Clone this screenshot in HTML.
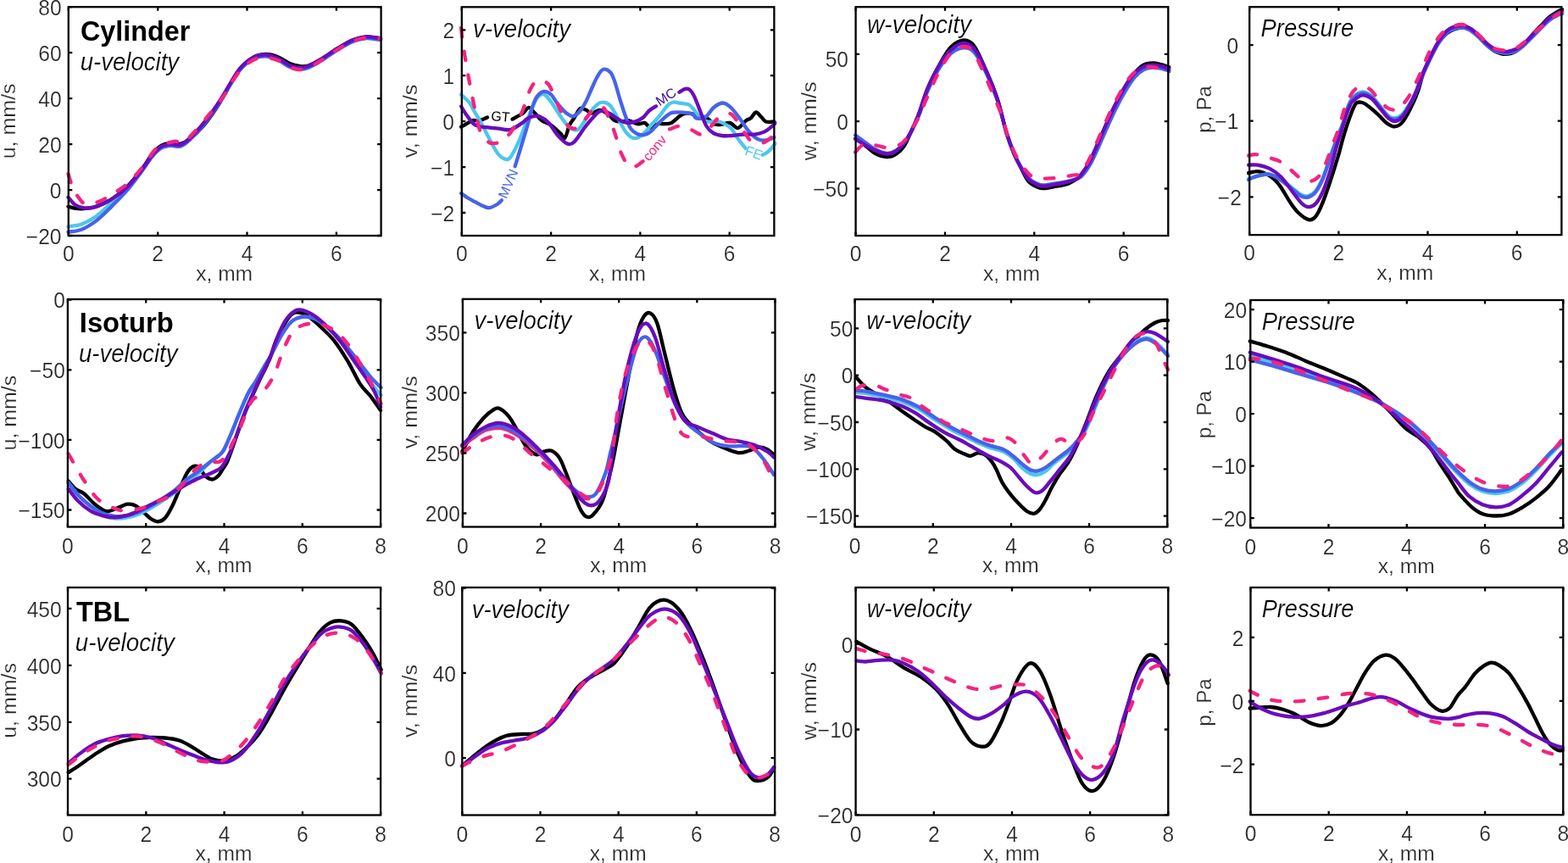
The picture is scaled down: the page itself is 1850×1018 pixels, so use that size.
<!DOCTYPE html><html><head><meta charset="utf-8"><style>html,body{margin:0;padding:0;background:#fff;}svg{display:block;}text{font-family:"Liberation Sans",Arial,sans-serif;}.t{stroke:#fff;stroke-width:0.22;}</style></head><body>
<svg width="1850" height="1018" viewBox="0 0 1850 1018">
<rect width="1850" height="1018" fill="#fff"/>
<clipPath id="c00"><rect x="77.8" y="5.2" width="374.8" height="275.8"/></clipPath>
<g clip-path="url(#c00)" fill="none" stroke-linecap="round" stroke-linejoin="round">
<path d="M80.5 243.6C81.8 243.9 85.4 245.1 88.0 245.5C90.6 245.9 93.2 246.3 96.0 246.3C98.8 246.3 102.0 246.0 105.0 245.5C108.0 245.0 109.7 245.0 114.3 243.2C118.9 241.4 126.4 238.4 132.5 234.5C138.6 230.6 144.6 225.7 150.7 219.5C156.8 213.3 164.0 203.8 168.8 197.5C173.6 191.2 176.1 185.8 179.7 181.5C183.3 177.2 187.0 173.6 190.6 171.5C194.2 169.4 197.9 169.1 201.5 168.8C205.1 168.5 208.8 170.5 212.4 169.8C216.0 169.1 218.5 168.4 223.3 164.5C228.2 160.6 235.4 153.8 241.5 146.5C247.6 139.2 254.5 128.8 259.7 120.5C264.9 112.2 268.9 103.7 272.9 97.0C276.9 90.3 279.6 85.3 283.8 80.5C288.0 75.7 293.5 70.8 298.3 68.0C303.1 65.2 308.0 64.2 312.9 64.0C317.8 63.8 322.6 65.2 327.4 67.0C332.2 68.8 337.7 73.2 341.9 75.0C346.1 76.8 349.2 77.6 352.8 78.0C356.4 78.4 359.1 79.0 363.7 77.5C368.2 76.0 374.4 72.5 380.1 69.1C385.9 65.7 392.1 60.8 398.2 57.2C404.2 53.6 410.6 49.6 416.4 47.3C422.2 45.0 427.4 43.6 432.8 43.3C438.2 43.0 446.4 45.0 449.1 45.4" stroke="#000000" stroke-width="4.3"/>
<path d="M80.5 267.2C83.1 266.8 90.6 266.6 96.2 264.5C101.8 262.4 108.2 258.9 114.3 254.5C120.3 250.1 126.4 243.6 132.5 238.1C138.6 232.6 144.6 228.0 150.7 221.5C156.8 215.0 164.0 205.6 168.8 199.3C173.6 193.0 176.1 188.1 179.7 183.9C183.3 179.7 187.0 176.0 190.6 173.9C194.2 171.8 197.9 171.5 201.5 171.2C205.1 170.9 208.8 173.2 212.4 172.1C216.0 171.0 218.5 169.3 223.3 164.8C228.2 160.2 235.4 152.4 241.5 144.8C247.6 137.2 254.5 127.3 259.7 119.4C264.9 111.5 268.9 103.9 272.9 97.5C276.9 91.1 279.6 85.8 283.8 81.1C288.0 76.4 293.5 71.9 298.3 69.3C303.1 66.7 308.0 65.6 312.9 65.7C317.8 65.8 322.6 67.8 327.4 69.9C332.2 72.0 337.7 76.5 341.9 78.4C346.1 80.3 349.2 81.1 352.8 81.2C356.4 81.3 359.1 81.1 363.7 79.3C368.2 77.5 374.4 73.8 380.1 70.3C385.9 66.8 392.1 62.0 398.2 58.4C404.2 54.8 410.6 50.8 416.4 48.5C422.2 46.2 427.4 44.8 432.8 44.5C438.2 44.2 446.4 46.2 449.1 46.6" stroke="#4cc6ee" stroke-width="4.3"/>
<path d="M80.5 273.5C83.1 273.1 90.6 273.1 96.2 270.8C101.8 268.5 108.2 264.6 114.3 259.9C120.3 255.2 126.4 248.6 132.5 242.6C138.6 236.6 144.6 230.7 150.7 223.6C156.8 216.5 164.0 206.4 168.8 199.9C173.6 193.4 176.1 188.7 179.7 184.5C183.3 180.3 187.0 176.6 190.6 174.5C194.2 172.4 197.9 172.1 201.5 171.8C205.1 171.5 208.8 173.8 212.4 172.7C216.0 171.6 218.5 170.0 223.3 165.4C228.2 160.8 235.4 153.0 241.5 145.4C247.6 137.8 254.5 127.9 259.7 120.0C264.9 112.1 268.9 104.5 272.9 98.1C276.9 91.7 279.6 86.4 283.8 81.7C288.0 77.0 293.5 72.5 298.3 69.9C303.1 67.3 308.0 66.2 312.9 66.3C317.8 66.4 322.6 68.4 327.4 70.5C332.2 72.6 337.7 77.1 341.9 79.0C346.1 80.9 349.2 81.7 352.8 81.8C356.4 81.9 359.1 81.7 363.7 79.9C368.2 78.1 374.4 74.4 380.1 70.9C385.9 67.4 392.1 62.6 398.2 59.0C404.2 55.4 410.6 51.4 416.4 49.1C422.2 46.8 427.4 45.4 432.8 45.1C438.2 44.8 446.4 46.8 449.1 47.2" stroke="#4763ea" stroke-width="4.3"/>
<path d="M80.5 232.7C81.9 234.2 85.7 239.6 88.9 241.7C92.1 243.8 95.6 245.1 99.8 245.4C104.0 245.7 108.8 245.4 114.3 243.6C119.8 241.8 126.4 238.4 132.5 234.5C138.6 230.6 144.6 226.0 150.7 219.9C156.8 213.8 164.0 204.3 168.8 198.1C173.6 191.9 176.1 186.9 179.7 182.7C183.3 178.5 187.0 174.8 190.6 172.7C194.2 170.6 197.9 170.3 201.5 170.0C205.1 169.7 208.8 172.0 212.4 170.9C216.0 169.8 218.5 168.2 223.3 163.6C228.2 159.0 235.4 151.2 241.5 143.6C247.6 136.0 254.5 126.1 259.7 118.2C264.9 110.3 268.9 102.7 272.9 96.3C276.9 89.9 279.6 84.6 283.8 79.9C288.0 75.2 293.5 70.7 298.3 68.1C303.1 65.5 308.0 64.4 312.9 64.5C317.8 64.6 322.6 66.6 327.4 68.7C332.2 70.8 337.7 75.3 341.9 77.2C346.1 79.1 349.2 79.8 352.8 80.0C356.4 80.2 359.1 79.9 363.7 78.1C368.2 76.3 374.4 72.6 380.1 69.1C385.9 65.6 392.1 60.8 398.2 57.2C404.2 53.6 410.6 49.6 416.4 47.3C422.2 45.0 427.4 43.6 432.8 43.3C438.2 43.0 446.4 45.0 449.1 45.4" stroke="#6a0cbd" stroke-width="4.3"/>
<path d="M80.5 205.0C81.3 207.5 83.3 215.3 85.3 219.9C87.3 224.5 89.8 229.2 92.5 232.7C95.2 236.2 97.3 240.1 101.6 240.8C105.8 241.6 112.8 239.2 118.0 237.2C123.2 235.2 127.0 232.5 132.5 229.0C137.9 225.5 144.6 221.8 150.7 216.3C156.8 210.9 163.1 203.3 168.8 196.3C174.6 189.3 179.1 179.4 185.2 174.5C191.3 169.6 200.1 168.0 205.2 166.9C210.3 165.8 212.1 169.9 216.0 168.1C219.9 166.3 223.3 162.2 228.8 156.3C234.3 150.4 242.5 140.6 248.8 132.7C255.2 124.8 262.9 114.9 266.9 109.1C270.9 103.3 270.1 102.3 272.9 98.0C275.7 93.7 279.6 87.5 283.8 83.0C288.0 78.5 293.5 73.5 298.3 71.0C303.1 68.5 308.0 68.0 312.9 68.0C317.8 68.0 322.6 69.2 327.4 71.0C332.2 72.8 337.7 77.2 341.9 79.0C346.1 80.8 349.2 81.8 352.8 82.0C356.4 82.2 359.1 81.9 363.7 80.0C368.2 78.1 374.4 74.1 380.1 70.5C385.9 66.9 392.1 62.2 398.2 58.5C404.2 54.8 410.6 50.8 416.4 48.5C422.2 46.2 427.4 45.0 432.8 44.5C438.2 44.0 446.4 45.2 449.1 45.4" stroke="#f5237f" stroke-width="4.3" stroke-dasharray="10.5 17.5"/>
</g>
<rect x="80.8" y="8.2" width="368.8" height="269.8" fill="none" stroke="#000" stroke-width="2.3"/>
<path d="M80.8 278.0h4.5M449.6 278.0h-4.5M80.8 224.1h4.5M449.6 224.1h-4.5M80.8 170.1h4.5M449.6 170.1h-4.5M80.8 116.2h4.5M449.6 116.2h-4.5M80.8 62.2h4.5M449.6 62.2h-4.5M80.8 8.2h4.5M449.6 8.2h-4.5M80.8 278.0v-4.5M80.8 8.2v4.5M186.2 278.0v-4.5M186.2 8.2v4.5M291.5 278.0v-4.5M291.5 8.2v4.5M396.9 278.0v-4.5M396.9 8.2v4.5" stroke="#000" stroke-width="2.3" fill="none"/>
<text transform="translate(30.81,287.77) scale(0.965,1)" font-size="25.5" fill="#262626" class="t">−20</text>
<text transform="translate(58.87,233.82) scale(0.965,1)" font-size="25.5" fill="#262626" class="t">0</text>
<text transform="translate(45.21,179.87) scale(0.965,1)" font-size="25.5" fill="#262626" class="t">20</text>
<text transform="translate(45.21,125.92) scale(0.965,1)" font-size="25.5" fill="#262626" class="t">40</text>
<text transform="translate(45.21,71.97) scale(0.965,1)" font-size="25.5" fill="#262626" class="t">60</text>
<text transform="translate(45.21,18.02) scale(0.965,1)" font-size="25.5" fill="#262626" class="t">80</text>
<text transform="translate(73.94,308.30) scale(0.965,1)" font-size="25.5" fill="#262626" class="t">0</text>
<text transform="translate(179.34,308.30) scale(0.965,1)" font-size="25.5" fill="#262626" class="t">2</text>
<text transform="translate(284.78,308.30) scale(0.965,1)" font-size="25.5" fill="#262626" class="t">4</text>
<text transform="translate(389.99,308.30) scale(0.965,1)" font-size="25.5" fill="#262626" class="t">6</text>
<text transform="translate(231.19,330.60) scale(1.0695,1)" font-size="23.0" fill="#262626" class="t">x, mm</text>
<text transform="translate(17.80,187.33) rotate(-90) scale(1.0885,1)" font-size="23.0" fill="#262626" class="t">u, mm/s</text>
<text transform="translate(94.91,47.70) scale(0.9795,1)" font-size="33" font-weight="bold" fill="#000">Cylinder</text>
<text transform="translate(94.63,82.90) scale(0.9516,1)" font-size="29" font-style="italic" fill="#000" class="t">u-velocity</text>
<clipPath id="c01"><rect x="541.8" y="5.3" width="374.6" height="275.7"/></clipPath>
<g clip-path="url(#c01)" fill="none" stroke-linecap="round" stroke-linejoin="round">
<path d="M544.1 149.6C545.2 149.0 548.2 147.3 550.5 146.0C552.8 144.7 555.5 142.6 557.9 142.0C560.3 141.4 562.1 143.1 565.0 142.5C567.9 141.9 573.3 139.2 575.0 138.5M604.6 140.6C605.7 140.0 608.9 138.2 611.0 137.0C613.1 135.8 614.9 135.4 617.0 133.7C619.1 132.0 621.6 127.0 623.9 126.9C626.2 126.8 628.2 130.6 630.7 133.1C633.2 135.6 635.8 139.6 639.0 142.0C642.2 144.4 646.3 145.0 650.0 147.5C653.7 150.0 658.2 154.6 661.0 157.1C663.8 159.6 664.7 164.2 666.5 162.6C668.3 161.0 670.2 151.4 672.0 147.5C673.8 143.6 675.5 142.4 677.5 139.2C679.5 136.0 682.0 129.8 684.3 128.2C686.6 126.6 688.9 128.7 691.2 129.6C693.5 130.5 695.4 133.6 698.1 133.7C700.9 133.8 704.5 129.9 707.7 130.0C710.9 130.1 714.4 132.5 717.3 134.5C720.2 136.5 722.4 140.6 725.0 142.1C727.6 143.6 730.5 143.5 733.2 143.5C736.0 143.5 738.3 141.7 741.5 142.1C744.7 142.5 749.3 145.7 752.5 146.2C755.7 146.7 758.2 144.1 760.7 144.9C763.2 145.7 765.1 150.8 767.6 151.0C770.1 151.2 773.1 147.0 775.9 146.2C778.6 145.4 781.4 146.4 784.1 146.2C786.9 146.0 789.6 146.3 792.4 144.9C795.1 143.5 798.1 139.8 800.6 138.0C803.1 136.2 805.2 134.6 807.5 133.9C809.8 133.2 811.6 133.5 814.4 133.9C817.1 134.3 820.6 135.6 824.0 136.6C827.4 137.6 832.0 138.4 835.0 140.0C838.0 141.6 839.1 145.0 841.9 146.2C844.6 147.3 848.3 147.1 851.5 146.9C854.7 146.7 857.9 144.2 861.1 144.9C864.3 145.6 867.5 151.5 870.7 151.0C873.9 150.5 877.8 144.0 880.3 142.1C882.8 140.2 883.8 141.0 885.8 139.4C887.8 137.8 889.9 132.7 892.0 132.5C894.1 132.3 896.2 136.2 898.2 138.0C900.2 139.8 901.2 142.6 903.7 143.5C906.2 144.4 911.5 143.5 913.0 143.5" stroke="#000000" stroke-width="4.3"/>
<path d="M544.1 111.4C545.7 113.0 551.1 117.6 553.7 121.0C556.4 124.4 557.7 128.1 560.0 132.0C562.3 135.9 564.0 138.2 567.5 144.7C571.0 151.2 577.8 164.7 581.2 170.9C584.6 177.1 585.7 179.2 588.0 182.0C590.3 184.8 592.7 186.7 595.0 187.4C597.3 188.1 599.1 189.2 601.9 186.0C604.6 182.8 608.5 174.5 611.5 168.1C614.5 161.7 617.0 154.4 619.7 147.5C622.5 140.6 625.6 132.3 628.0 126.9C630.4 121.5 631.7 117.6 634.0 115.0C636.3 112.4 639.0 110.6 641.7 111.4C644.4 112.2 646.3 115.1 650.0 120.0C653.7 124.9 660.0 135.6 663.7 140.6C667.4 145.6 669.0 148.1 672.0 150.2C675.0 152.3 678.4 154.6 681.6 153.0C684.8 151.4 688.1 144.8 691.2 140.6C694.3 136.4 697.1 131.3 700.0 128.0C702.9 124.7 705.3 121.7 708.5 121.0C711.7 120.3 715.9 120.8 719.3 123.9C722.7 127.0 725.8 134.2 729.1 139.6C732.4 145.0 735.6 152.4 738.9 156.3C742.2 160.2 745.5 162.9 748.8 163.2C752.1 163.5 755.3 160.9 758.6 158.3C761.9 155.7 765.1 151.1 768.4 147.5C771.7 143.9 774.9 140.6 778.2 136.7C781.5 132.8 785.3 126.6 788.0 123.9C790.7 121.2 792.4 120.9 794.5 120.5C796.6 120.1 798.1 121.0 800.4 121.3C802.7 121.6 806.1 122.1 808.2 122.5C810.4 122.9 811.7 122.7 813.3 123.7C814.9 124.7 816.0 126.0 818.0 128.4C820.0 130.8 822.6 135.5 825.4 138.0C828.2 140.5 831.1 142.6 835.0 143.5C838.9 144.4 844.6 142.6 848.7 143.5C852.8 144.4 857.0 147.2 859.7 149.0C862.4 150.8 863.4 152.2 865.0 154.4C866.6 156.6 867.9 159.7 869.4 161.9C870.9 164.1 872.1 165.5 873.8 167.7C875.5 169.8 878.6 173.6 879.6 174.8M899.9 182.7C900.7 182.3 903.2 181.2 904.8 180.1C906.3 179.0 907.5 177.9 909.2 176.1C910.9 174.2 914.0 170.2 915.0 169.0" stroke="#4cc6ee" stroke-width="4.3"/>
<path d="M544.1 227.9C545.4 228.8 549.2 231.8 552.0 233.5C554.8 235.2 557.6 236.6 560.6 238.2C563.6 239.8 567.2 241.8 570.0 243.0C572.8 244.2 574.3 245.4 577.1 245.1C579.9 244.8 584.2 242.5 586.7 241.0C589.2 239.5 590.9 237.1 591.8 236.3M607.7 196.2C608.8 192.7 611.7 183.1 614.2 175.0C616.7 166.9 620.2 155.5 622.5 147.5C624.8 139.5 626.2 132.5 628.0 126.9C629.8 121.3 631.2 117.3 633.5 114.1C635.8 110.9 639.0 108.4 641.7 107.9C644.5 107.5 647.5 109.2 650.0 111.4C652.5 113.6 654.6 118.1 656.9 121.0C659.2 123.9 661.7 126.8 663.7 129.0C665.7 131.2 666.9 132.6 669.0 134.0C671.1 135.4 673.6 137.7 676.1 137.2C678.6 136.7 681.8 133.9 684.3 131.0C686.8 128.1 688.9 124.4 691.2 120.0C693.5 115.6 695.8 109.5 698.1 104.5C700.4 99.5 702.7 93.8 705.0 90.0C707.3 86.2 709.3 82.6 711.8 81.8C714.3 81.0 717.9 82.9 720.1 85.2C722.3 87.5 723.0 89.8 725.0 95.4C727.0 101.0 729.6 111.3 731.9 118.7C734.2 126.1 736.9 134.2 738.9 139.6C740.9 145.0 741.9 148.4 743.9 151.4C745.9 154.4 748.2 156.0 750.7 157.3C753.2 158.6 756.0 159.5 758.6 159.3C761.2 159.1 764.0 157.9 766.4 156.3C768.8 154.7 770.5 152.3 773.3 149.5C776.1 146.7 779.8 142.4 783.1 139.6C786.4 136.8 788.9 133.9 793.0 132.8C797.1 131.7 803.6 132.5 807.7 132.8C811.8 133.1 815.2 133.6 817.5 134.7C819.8 135.8 818.8 138.8 821.2 139.4C823.7 140.0 828.8 140.1 832.2 138.0C835.7 135.9 838.5 129.8 841.9 127.0C845.3 124.2 849.5 121.5 852.9 121.5C856.3 121.5 859.1 123.8 862.5 127.0C865.9 130.2 870.1 136.1 873.5 140.7C876.9 145.3 879.7 150.6 883.1 154.5C886.5 158.4 890.7 162.3 894.1 164.1C897.5 165.9 900.5 165.8 903.7 165.5C906.9 165.2 911.7 162.6 913.3 162.0" stroke="#4763ea" stroke-width="4.3"/>
<path d="M544.1 125.5C545.2 127.3 548.2 132.8 551.0 136.5C553.8 140.2 556.7 145.2 560.6 147.5C564.5 149.8 569.8 149.5 574.4 150.2C579.0 150.9 583.5 151.1 588.1 151.6C592.7 152.1 597.3 154.0 601.9 153.0C606.5 152.0 612.2 147.6 615.6 145.4C619.0 143.2 619.7 141.4 622.0 140.0C624.3 138.6 627.0 137.7 629.4 137.2C631.8 136.7 633.2 135.9 636.2 137.2C639.2 138.4 643.5 140.9 647.2 144.7C650.9 148.5 654.5 155.8 658.2 159.9C661.9 164.0 666.0 168.2 669.2 169.5C672.4 170.8 674.1 170.6 677.5 167.4C680.9 164.2 686.1 155.3 689.8 150.5C693.5 145.7 696.5 142.0 699.6 138.7C702.7 135.4 705.2 131.6 708.5 130.8C711.8 130.0 715.9 132.2 719.3 133.8C722.7 135.4 725.8 138.8 729.1 140.6C732.4 142.4 735.6 144.1 738.9 144.6C742.2 145.1 745.5 144.6 748.8 143.6C752.1 142.6 755.7 140.9 758.6 138.7C761.5 136.5 763.4 132.7 766.0 130.5C768.6 128.3 772.7 126.2 774.0 125.3M801.5 108.8C802.6 108.1 806.2 105.3 808.2 104.8C810.2 104.3 811.7 104.5 813.3 105.6C814.9 106.7 816.5 109.0 818.0 111.5C819.5 114.0 820.5 117.0 822.0 120.5C823.5 124.0 824.8 127.8 826.7 132.5C828.6 137.2 831.1 144.9 833.6 149.0C836.1 153.1 838.9 155.4 841.9 157.2C844.9 159.0 848.1 159.5 851.5 160.0C854.9 160.5 858.4 160.2 862.5 160.0C866.6 159.8 871.6 158.8 876.2 158.6C880.8 158.4 885.9 159.0 890.0 158.6C894.1 158.2 897.8 157.3 901.0 155.9C904.2 154.5 906.9 152.2 909.2 150.4C911.5 148.6 914.0 145.8 915.0 144.9" stroke="#6a0cbd" stroke-width="4.3"/>
<path d="M544.1 33.0C544.4 35.8 545.3 44.7 546.0 50.0C546.7 55.3 546.9 56.9 548.2 64.6C549.5 72.3 551.9 86.3 553.7 96.2C555.5 106.1 557.8 116.9 559.2 123.7C560.6 130.5 560.6 131.4 562.0 137.0C563.4 142.6 565.0 151.9 567.5 157.1C570.0 162.3 574.1 166.1 577.1 168.1C580.1 170.1 583.1 169.0 585.4 168.8C587.7 168.6 589.1 167.8 590.9 166.7C592.7 165.6 594.2 163.6 596.0 162.0C597.8 160.4 599.8 159.8 601.9 157.1C604.0 154.4 606.2 150.7 608.7 146.1C611.2 141.5 614.7 135.2 617.0 129.6C619.3 124.0 620.4 117.8 622.5 112.7C624.6 107.6 627.1 102.0 629.4 99.0C631.7 96.0 634.1 95.4 636.2 94.9C638.3 94.4 639.9 94.9 642.0 96.0C644.1 97.1 645.9 97.1 648.6 101.7C651.3 106.3 655.7 118.2 658.2 123.7C660.7 129.2 661.6 130.8 663.7 135.0C665.8 139.2 668.3 146.1 670.6 148.9C672.9 151.7 675.4 151.5 677.5 151.6C679.6 151.7 680.5 151.9 683.0 149.6C685.5 147.3 689.6 141.5 692.6 137.9C695.6 134.3 698.4 130.2 700.8 128.2C703.2 126.2 704.9 126.0 707.0 126.0C709.1 126.0 711.2 125.8 713.2 128.2C715.2 130.6 716.9 136.4 718.7 140.6C720.5 144.8 722.6 149.0 724.2 153.4C725.9 157.8 727.1 162.6 728.6 167.2C730.1 171.8 731.1 176.5 733.0 180.9C734.9 185.3 737.7 191.0 739.9 193.7C742.1 196.4 744.0 196.8 746.0 197.0C748.0 197.2 750.1 196.2 752.2 195.1C754.3 194.0 757.5 191.0 758.6 190.2M790.0 152.4C792.1 151.8 798.5 148.4 802.8 148.5C807.1 148.6 811.5 151.4 815.7 153.1C819.9 154.8 824.2 159.3 828.1 158.6C832.0 157.9 835.7 152.4 839.1 149.0C842.5 145.6 845.0 140.5 848.7 138.0C852.4 135.5 857.7 133.2 861.1 133.9C864.5 134.6 866.3 138.2 869.3 142.1C872.3 146.0 876.0 153.1 879.0 157.2C882.0 161.3 883.5 165.1 887.2 166.9C890.9 168.7 896.9 169.3 901.0 168.2C905.1 167.0 909.5 162.2 912.0 160.0C914.5 157.8 915.3 155.8 916.0 155.0" stroke="#f5237f" stroke-width="4.3" stroke-dasharray="10.5 17.5"/>
<text transform="translate(590.5,137.5) rotate(5)" font-size="16" fill="#000000" text-anchor="middle" dominant-baseline="central" stroke="none">GT</text>
<text transform="translate(599.5,216.8) rotate(-66.5)" font-size="16" fill="#4763ea" text-anchor="middle" dominant-baseline="central" stroke="none">MVN</text>
<text transform="translate(785.8,114.0) rotate(-33)" font-size="16" fill="#3d0a9e" text-anchor="middle" dominant-baseline="central" stroke="none">MC</text>
<text transform="translate(772.3,174.5) rotate(-50)" font-size="16" fill="#f5237f" text-anchor="middle" dominant-baseline="central" stroke="none">conv</text>
<text transform="translate(889.3,180.3) rotate(18)" font-size="16" fill="#4cc6ee" text-anchor="middle" dominant-baseline="central" stroke="none">FE</text>
</g>
<rect x="544.8" y="8.3" width="368.6" height="269.7" fill="none" stroke="#000" stroke-width="2.3"/>
<path d="M544.8 251.0h4.5M913.4 251.0h-4.5M544.8 197.1h4.5M913.4 197.1h-4.5M544.8 143.2h4.5M913.4 143.2h-4.5M544.8 89.2h4.5M913.4 89.2h-4.5M544.8 35.3h4.5M913.4 35.3h-4.5M544.8 278.0v-4.5M544.8 8.3v4.5M650.1 278.0v-4.5M650.1 8.3v4.5M755.4 278.0v-4.5M755.4 8.3v4.5M860.7 278.0v-4.5M860.7 8.3v4.5" stroke="#000" stroke-width="2.3" fill="none"/>
<text transform="translate(508.13,260.92) scale(0.965,1)" font-size="25.5" fill="#262626" class="t">−2</text>
<text transform="translate(508.07,206.86) scale(0.965,1)" font-size="25.5" fill="#262626" class="t">−1</text>
<text transform="translate(522.22,152.92) scale(0.965,1)" font-size="25.5" fill="#262626" class="t">0</text>
<text transform="translate(522.46,98.98) scale(0.965,1)" font-size="25.5" fill="#262626" class="t">1</text>
<text transform="translate(522.52,45.16) scale(0.965,1)" font-size="25.5" fill="#262626" class="t">2</text>
<text transform="translate(537.89,308.30) scale(0.965,1)" font-size="25.5" fill="#262626" class="t">0</text>
<text transform="translate(643.24,308.30) scale(0.965,1)" font-size="25.5" fill="#262626" class="t">2</text>
<text transform="translate(748.61,308.30) scale(0.965,1)" font-size="25.5" fill="#262626" class="t">4</text>
<text transform="translate(853.77,308.30) scale(0.965,1)" font-size="25.5" fill="#262626" class="t">6</text>
<text transform="translate(695.04,330.60) scale(1.0695,1)" font-size="23.0" fill="#262626" class="t">x, mm</text>
<text transform="translate(491.90,186.13) rotate(-90) scale(1.0995,1)" font-size="23.0" fill="#262626" class="t">v, mm/s</text>
<text transform="translate(557.98,43.80) scale(0.9527,1)" font-size="29" font-style="italic" fill="#000" class="t">v-velocity</text>
<clipPath id="c02"><rect x="1006.6" y="5.2" width="374.7" height="275.8"/></clipPath>
<g clip-path="url(#c02)" fill="none" stroke-linecap="round" stroke-linejoin="round">
<path d="M1009.1 163.7C1010.7 164.7 1014.8 167.0 1018.7 169.9C1022.6 172.8 1027.9 178.4 1032.5 180.9C1037.1 183.4 1042.1 185.0 1046.2 185.1C1050.3 185.2 1053.8 183.8 1057.2 181.6C1060.7 179.4 1063.7 176.9 1066.9 172.0C1070.1 167.1 1073.5 158.6 1076.5 152.0C1079.5 145.4 1081.7 140.6 1084.7 132.7C1087.7 124.8 1090.5 113.8 1094.4 104.5C1098.3 95.2 1103.5 85.2 1108.1 77.0C1112.7 68.8 1117.1 60.5 1121.9 55.6C1126.7 50.7 1132.4 47.6 1137.0 47.4C1141.6 47.2 1145.0 48.4 1149.3 54.2C1153.6 60.1 1158.5 72.0 1163.1 82.5C1167.7 93.0 1172.7 104.4 1176.8 116.9C1180.9 129.4 1184.4 146.6 1187.8 157.5C1191.2 168.4 1194.2 176.1 1196.9 182.5C1199.6 188.9 1201.0 191.0 1203.7 196.2C1206.5 201.4 1210.0 209.8 1213.4 213.9C1216.9 218.0 1221.4 219.3 1224.4 220.7C1227.4 222.1 1227.8 222.2 1231.2 222.1C1234.6 222.0 1240.4 220.8 1245.0 220.0C1249.6 219.2 1254.6 218.7 1258.7 217.3C1262.8 215.9 1267.0 213.1 1269.7 211.4C1272.4 209.7 1272.5 210.2 1275.0 206.9C1277.5 203.7 1281.7 198.0 1285.0 191.9C1288.3 185.8 1291.7 177.7 1295.0 170.2C1298.3 162.7 1301.8 154.3 1305.1 146.8C1308.4 139.3 1311.5 132.3 1315.1 125.1C1318.7 117.9 1323.2 109.5 1326.8 103.4C1330.4 97.3 1333.2 92.8 1336.8 88.4C1340.4 84.0 1344.6 79.3 1348.5 77.0C1352.4 74.7 1356.6 74.6 1360.2 74.5C1363.8 74.4 1366.9 75.4 1370.2 76.2C1373.5 77.0 1378.4 79.0 1380.0 79.5" stroke="#000000" stroke-width="4.3"/>
<path d="M1009.1 159.6C1010.7 160.7 1014.8 163.7 1018.7 166.4C1022.6 169.1 1027.9 173.6 1032.5 176.0C1037.1 178.4 1042.1 180.7 1046.2 180.9C1050.3 181.2 1053.8 179.6 1057.2 177.5C1060.7 175.4 1063.7 172.6 1066.9 168.5C1070.1 164.4 1073.5 158.6 1076.5 153.0C1079.5 147.4 1081.7 142.6 1084.7 135.0C1087.7 127.4 1090.5 116.6 1094.4 107.5C1098.3 98.4 1103.5 87.9 1108.1 80.5C1112.7 73.1 1117.1 67.0 1121.9 63.0C1126.7 59.0 1132.4 56.6 1137.0 56.4C1141.6 56.1 1145.0 56.7 1149.3 61.5C1153.6 66.3 1158.5 75.5 1163.1 85.0C1167.7 94.5 1172.7 106.3 1176.8 118.5C1180.9 130.7 1184.4 147.4 1187.8 158.0C1191.2 168.6 1194.2 175.8 1196.9 182.0C1199.6 188.2 1201.0 190.8 1203.7 195.5C1206.5 200.2 1210.0 206.4 1213.4 210.0C1216.9 213.6 1221.4 215.6 1224.4 217.0C1227.4 218.4 1227.8 218.6 1231.2 218.5C1234.6 218.4 1240.4 217.2 1245.0 216.5C1249.6 215.8 1254.6 214.9 1258.7 214.0C1262.8 213.1 1266.7 212.1 1269.7 211.0C1272.7 209.9 1273.7 210.4 1276.5 207.5C1279.3 204.6 1283.2 199.3 1286.5 193.5C1289.8 187.7 1293.2 179.8 1296.5 172.5C1299.8 165.2 1303.2 156.9 1306.6 149.5C1309.9 142.1 1313.0 135.2 1316.6 128.0C1320.2 120.8 1324.7 112.6 1328.3 106.5C1331.9 100.4 1334.8 95.6 1338.3 91.5C1341.8 87.4 1345.8 84.0 1349.5 82.0C1353.2 80.0 1356.8 79.7 1360.2 79.5C1363.7 79.3 1366.9 80.2 1370.2 81.0C1373.5 81.8 1378.4 83.5 1380.0 84.0" stroke="#4763ea" stroke-width="4.3"/>
<path d="M1009.1 163.7C1010.7 164.7 1014.8 167.6 1018.7 169.9C1022.6 172.2 1027.9 175.5 1032.5 177.4C1037.1 179.3 1042.1 181.5 1046.2 181.6C1050.3 181.7 1053.8 180.3 1057.2 178.1C1060.7 175.9 1063.7 172.8 1066.9 168.5C1070.1 164.2 1073.5 158.0 1076.5 152.0C1079.5 146.0 1081.7 140.6 1084.7 132.7C1087.7 124.8 1090.5 113.8 1094.4 104.5C1098.3 95.2 1103.5 84.6 1108.1 77.0C1112.7 69.4 1117.1 63.5 1121.9 59.1C1126.7 54.8 1132.4 51.1 1137.0 50.9C1141.6 50.7 1145.0 52.4 1149.3 57.7C1153.6 63.0 1158.5 72.6 1163.1 82.5C1167.7 92.4 1172.7 104.4 1176.8 116.9C1180.9 129.4 1184.4 146.6 1187.8 157.5C1191.2 168.4 1194.2 176.1 1196.9 182.5C1199.6 188.9 1201.0 191.4 1203.7 196.2C1206.5 201.0 1210.0 207.7 1213.4 211.4C1216.9 215.1 1221.4 216.8 1224.4 218.2C1227.4 219.6 1227.8 219.7 1231.2 219.6C1234.6 219.5 1240.4 218.3 1245.0 217.5C1249.6 216.7 1254.6 215.8 1258.7 214.8C1262.8 213.8 1267.0 212.7 1269.7 211.4C1272.4 210.1 1272.5 210.2 1275.0 206.9C1277.5 203.7 1281.7 198.0 1285.0 191.9C1288.3 185.8 1291.7 177.7 1295.0 170.2C1298.3 162.7 1301.8 154.3 1305.1 146.8C1308.4 139.3 1311.5 132.3 1315.1 125.1C1318.7 117.9 1323.2 109.5 1326.8 103.4C1330.4 97.3 1333.2 92.4 1336.8 88.4C1340.4 84.4 1344.6 81.2 1348.5 79.2C1352.4 77.2 1356.6 76.8 1360.2 76.7C1363.8 76.6 1366.9 77.6 1370.2 78.4C1373.5 79.2 1378.4 81.2 1380.0 81.7" stroke="#6a0cbd" stroke-width="4.3"/>
<path d="M1009.1 179.5C1010.7 178.0 1014.8 172.0 1018.7 170.6C1022.6 169.2 1027.9 170.6 1032.5 171.2C1037.1 171.8 1041.4 174.1 1046.2 174.0C1051.0 173.9 1057.5 172.4 1061.4 170.6C1065.3 168.8 1066.6 167.0 1069.6 163.0C1072.6 159.0 1076.7 150.8 1079.2 146.5C1081.7 142.2 1082.4 141.8 1084.7 136.9C1087.0 132.0 1089.5 124.8 1093.0 116.9C1096.5 109.0 1101.1 97.9 1105.4 89.4C1109.8 80.9 1115.3 71.2 1119.1 66.0C1122.9 60.8 1124.8 59.8 1128.0 58.0C1131.2 56.2 1135.0 54.6 1138.3 55.0C1141.6 55.4 1144.3 55.5 1148.0 60.5C1151.7 65.5 1156.0 75.8 1160.3 85.2C1164.6 94.6 1170.4 108.2 1174.1 116.9C1177.8 125.6 1179.6 129.8 1182.3 137.5C1185.0 145.2 1186.9 154.8 1190.0 163.2C1193.1 171.6 1197.1 181.1 1201.0 188.0C1204.9 194.9 1209.7 200.8 1213.4 204.5C1217.1 208.2 1217.7 209.1 1223.0 210.0C1228.3 210.9 1237.7 210.6 1245.0 210.0C1252.3 209.4 1262.2 207.3 1267.0 206.5C1271.8 205.7 1271.2 207.6 1274.0 205.0C1276.8 202.4 1280.2 196.9 1283.5 191.0C1286.8 185.1 1290.2 177.0 1293.5 169.5C1296.8 162.0 1300.2 153.5 1303.6 146.0C1306.9 138.5 1310.0 131.7 1313.6 124.5C1317.2 117.3 1321.7 109.0 1325.3 103.0C1328.9 97.0 1331.7 92.3 1335.3 88.5C1338.9 84.7 1343.1 81.6 1347.0 80.0C1350.9 78.4 1355.0 78.8 1358.7 79.0C1362.4 79.2 1365.5 80.4 1369.0 81.5C1372.5 82.6 1378.2 84.8 1380.0 85.5" stroke="#f5237f" stroke-width="4.3" stroke-dasharray="10.5 17.5"/>
</g>
<rect x="1009.6" y="8.2" width="368.7" height="269.8" fill="none" stroke="#000" stroke-width="2.3"/>
<path d="M1009.6 222.5h4.5M1378.3 222.5h-4.5M1009.6 143.1h4.5M1378.3 143.1h-4.5M1009.6 63.8h4.5M1378.3 63.8h-4.5M1009.6 278.0v-4.5M1009.6 8.2v4.5M1115.0 278.0v-4.5M1115.0 8.2v4.5M1220.3 278.0v-4.5M1220.3 8.2v4.5M1325.7 278.0v-4.5M1325.7 8.2v4.5" stroke="#000" stroke-width="2.3" fill="none"/>
<text transform="translate(959.26,232.23) scale(0.965,1)" font-size="25.5" fill="#262626" class="t">−50</text>
<text transform="translate(987.32,152.89) scale(0.965,1)" font-size="25.5" fill="#262626" class="t">0</text>
<text transform="translate(973.66,78.85) scale(0.965,1)" font-size="25.5" fill="#262626" class="t">50</text>
<text transform="translate(1002.79,308.30) scale(0.965,1)" font-size="25.5" fill="#262626" class="t">0</text>
<text transform="translate(1108.16,308.30) scale(0.965,1)" font-size="25.5" fill="#262626" class="t">2</text>
<text transform="translate(1213.57,308.30) scale(0.965,1)" font-size="25.5" fill="#262626" class="t">4</text>
<text transform="translate(1318.76,308.30) scale(0.965,1)" font-size="25.5" fill="#262626" class="t">6</text>
<text transform="translate(1159.99,330.60) scale(1.0695,1)" font-size="23.0" fill="#262626" class="t">x, mm</text>
<text transform="translate(963.30,189.20) rotate(-90) scale(1.1012,1)" font-size="23.0" fill="#262626" class="t">w, mm/s</text>
<text transform="translate(1023.10,39.10) scale(0.9654,1)" font-size="29" font-style="italic" fill="#000" class="t">w-velocity</text>
<clipPath id="c03"><rect x="1471.2" y="5.2" width="374.2" height="274.9"/></clipPath>
<g clip-path="url(#c03)" fill="none" stroke-linecap="round" stroke-linejoin="round">
<path d="M1472.7 204.2C1474.5 203.9 1480.2 202.1 1483.7 202.2C1487.2 202.3 1490.2 203.4 1493.4 204.9C1496.6 206.4 1500.0 208.5 1503.0 211.1C1506.0 213.7 1508.0 216.1 1511.2 220.7C1514.4 225.3 1518.8 233.5 1522.2 238.6C1525.7 243.7 1528.2 247.6 1531.9 251.0C1535.6 254.4 1540.8 258.5 1544.2 259.2C1547.6 259.9 1549.8 258.5 1552.5 255.1C1555.2 251.7 1558.0 245.2 1560.7 238.6C1563.5 231.9 1566.0 224.1 1569.0 215.2C1572.0 206.3 1576.1 193.4 1578.6 185.0C1581.1 176.6 1581.9 172.3 1584.0 165.0C1586.1 157.7 1588.9 148.5 1591.4 141.4C1594.0 134.3 1596.7 126.0 1599.3 122.6C1601.9 119.2 1604.5 120.5 1607.1 121.0C1609.7 121.5 1611.8 123.3 1615.0 125.7C1618.2 128.1 1622.6 132.0 1626.0 135.2C1629.4 138.3 1632.2 142.2 1635.4 144.6C1638.6 146.9 1641.8 149.3 1644.9 149.3C1648.1 149.3 1651.2 148.0 1654.3 144.6C1657.4 141.2 1660.5 135.2 1663.7 128.9C1666.9 122.6 1670.6 114.1 1673.2 106.9C1675.8 99.8 1676.8 93.0 1679.4 86.0C1682.0 79.0 1685.8 71.2 1688.9 65.0C1692.1 58.8 1694.8 53.1 1698.3 48.5C1701.8 43.9 1705.4 40.0 1709.8 37.3C1714.2 34.6 1720.5 32.9 1724.6 32.5C1728.7 32.1 1731.1 33.3 1734.4 35.0C1737.7 36.7 1740.9 39.6 1744.2 42.5C1747.5 45.4 1750.7 49.5 1754.0 52.5C1757.3 55.5 1760.1 58.6 1763.9 60.5C1767.7 62.4 1772.5 63.9 1776.6 63.9C1780.7 63.9 1784.8 62.5 1788.4 60.5C1792.0 58.5 1794.9 55.2 1798.2 52.0C1801.5 48.8 1804.8 44.6 1808.1 41.0C1811.4 37.4 1814.6 33.9 1817.9 30.5C1821.2 27.1 1824.4 23.3 1827.7 20.5C1831.0 17.7 1834.9 15.3 1837.5 13.8C1840.1 12.3 1842.4 11.9 1843.4 11.5" stroke="#000000" stroke-width="4.3"/>
<path d="M1472.7 211.8C1474.5 211.1 1479.6 208.7 1483.7 207.7C1487.8 206.7 1492.9 205.0 1497.5 205.6C1502.1 206.2 1506.6 208.3 1511.2 211.0C1515.8 213.7 1520.9 218.8 1525.0 222.0C1529.1 225.2 1532.8 228.7 1536.0 230.2C1539.2 231.7 1541.5 231.8 1544.2 230.9C1547.0 230.0 1549.8 228.2 1552.5 224.7C1555.2 221.1 1558.0 216.0 1560.7 209.6C1563.5 203.2 1566.2 194.0 1569.0 186.2C1571.8 178.4 1574.5 170.2 1577.2 162.9C1580.0 155.6 1583.4 148.3 1585.5 142.2C1587.6 136.1 1588.2 131.0 1590.0 126.5C1591.8 122.0 1593.2 118.0 1596.1 115.0C1598.9 112.0 1603.4 108.8 1607.1 108.5C1610.8 108.2 1614.4 110.1 1618.1 113.0C1621.8 115.9 1625.7 122.0 1629.1 126.0C1632.5 130.0 1635.7 134.8 1638.6 137.0C1641.5 139.2 1643.8 139.5 1646.4 139.2C1649.0 138.9 1651.7 137.5 1654.3 135.0C1656.9 132.5 1659.6 128.2 1662.2 124.0C1664.8 119.8 1667.1 115.9 1670.0 109.5C1672.9 103.1 1676.2 92.9 1679.4 85.5C1682.6 78.1 1685.8 71.2 1688.9 65.0C1692.1 58.8 1694.8 53.0 1698.3 48.0C1701.8 43.0 1705.4 37.8 1709.8 35.0C1714.2 32.2 1720.5 31.2 1724.6 31.0C1728.7 30.8 1731.1 32.2 1734.4 34.0C1737.7 35.8 1740.9 39.0 1744.2 42.0C1747.5 45.0 1750.7 49.0 1754.0 51.8C1757.3 54.6 1760.1 57.1 1763.9 58.7C1767.7 60.3 1772.5 61.5 1776.6 61.5C1780.7 61.5 1784.8 60.3 1788.4 58.7C1792.0 57.1 1794.9 54.6 1798.2 51.8C1801.5 49.0 1804.8 45.3 1808.1 42.0C1811.4 38.7 1814.6 35.4 1817.9 32.1C1821.2 28.9 1824.4 25.1 1827.7 22.5C1831.0 19.9 1834.9 18.0 1837.5 16.7C1840.1 15.4 1842.4 14.9 1843.4 14.5" stroke="#4cc6ee" stroke-width="4.3"/>
<path d="M1472.7 211.8C1474.5 211.1 1479.6 208.7 1483.7 207.7C1487.8 206.7 1492.9 204.8 1497.5 205.6C1502.1 206.4 1506.6 209.5 1511.2 212.5C1515.8 215.5 1520.9 220.3 1525.0 223.5C1529.1 226.7 1532.8 230.2 1536.0 231.7C1539.2 233.2 1541.5 233.3 1544.2 232.4C1547.0 231.5 1549.8 229.8 1552.5 226.2C1555.2 222.6 1558.0 217.5 1560.7 211.1C1563.5 204.7 1566.2 195.5 1569.0 187.7C1571.8 179.9 1574.5 171.7 1577.2 164.4C1580.0 157.1 1583.4 149.8 1585.5 143.7C1587.6 137.6 1588.2 132.5 1590.0 128.0C1591.8 123.5 1593.2 119.5 1596.1 116.5C1598.9 113.5 1603.4 110.3 1607.1 110.0C1610.8 109.7 1614.4 111.6 1618.1 114.5C1621.8 117.4 1625.7 123.5 1629.1 127.5C1632.5 131.5 1635.7 136.3 1638.6 138.5C1641.5 140.7 1643.8 141.0 1646.4 140.7C1649.0 140.4 1651.7 139.0 1654.3 136.5C1656.9 134.0 1659.6 129.8 1662.2 125.5C1664.8 121.2 1667.1 117.4 1670.0 111.0C1672.9 104.6 1676.2 94.4 1679.4 87.0C1682.6 79.6 1685.8 72.8 1688.9 66.5C1692.1 60.2 1694.8 54.5 1698.3 49.5C1701.8 44.5 1705.4 39.3 1709.8 36.5C1714.2 33.7 1720.5 32.7 1724.6 32.5C1728.7 32.3 1731.1 33.7 1734.4 35.5C1737.7 37.3 1740.9 40.5 1744.2 43.5C1747.5 46.5 1750.7 50.5 1754.0 53.3C1757.3 56.1 1760.1 58.6 1763.9 60.2C1767.7 61.8 1772.5 63.0 1776.6 63.0C1780.7 63.0 1784.8 61.8 1788.4 60.2C1792.0 58.6 1794.9 56.1 1798.2 53.3C1801.5 50.5 1804.8 46.8 1808.1 43.5C1811.4 40.2 1814.6 36.9 1817.9 33.6C1821.2 30.4 1824.4 26.6 1827.7 24.0C1831.0 21.4 1834.9 19.5 1837.5 18.2C1840.1 16.9 1842.4 16.4 1843.4 16.0" stroke="#4763ea" stroke-width="4.3"/>
<path d="M1472.7 194.6C1474.5 194.6 1479.6 193.9 1483.7 194.6C1487.8 195.3 1492.9 196.4 1497.5 198.7C1502.1 201.0 1506.6 203.8 1511.2 208.4C1515.8 213.0 1520.9 220.9 1525.0 226.2C1529.1 231.5 1532.8 237.0 1536.0 240.0C1539.2 243.0 1541.5 244.1 1544.2 244.1C1547.0 244.1 1549.8 243.0 1552.5 240.0C1555.2 237.0 1558.0 232.4 1560.7 226.2C1563.5 220.0 1566.2 211.9 1569.0 202.9C1571.8 193.9 1575.0 179.7 1577.2 172.0C1579.4 164.3 1580.2 163.0 1582.0 157.0C1583.8 151.0 1586.5 141.5 1588.3 136.0C1590.1 130.5 1591.7 126.8 1593.0 124.0C1594.3 121.2 1593.8 121.3 1596.1 119.4C1598.4 117.5 1603.4 112.9 1607.1 112.4C1610.8 111.9 1614.4 113.5 1618.1 116.3C1621.8 119.0 1625.7 125.0 1629.1 128.9C1632.5 132.8 1635.7 137.6 1638.6 139.9C1641.5 142.2 1643.8 143.3 1646.4 143.0C1649.0 142.7 1651.7 141.2 1654.3 138.3C1656.9 135.4 1659.6 130.4 1662.2 125.7C1664.8 121.0 1667.1 116.8 1670.0 110.0C1672.9 103.2 1676.2 92.5 1679.4 84.9C1682.6 77.3 1685.8 70.7 1688.9 64.4C1692.1 58.1 1694.9 52.1 1698.3 47.1C1701.7 42.1 1705.2 37.3 1709.5 34.5C1713.8 31.7 1719.8 30.4 1724.0 30.2C1728.2 30.0 1731.0 31.5 1734.4 33.4C1737.8 35.2 1740.9 38.3 1744.2 41.3C1747.5 44.2 1750.7 48.3 1754.0 51.1C1757.3 53.9 1760.1 56.4 1763.9 58.0C1767.7 59.6 1772.5 60.9 1776.6 60.9C1780.7 60.9 1784.8 59.6 1788.4 58.0C1792.0 56.4 1794.9 53.9 1798.2 51.1C1801.5 48.3 1804.8 44.6 1808.1 41.3C1811.4 38.0 1814.6 34.7 1817.9 31.4C1821.2 28.1 1824.4 24.2 1827.7 21.6C1831.0 19.0 1834.9 17.1 1837.5 15.7C1840.1 14.3 1842.4 13.7 1843.4 13.3" stroke="#6a0cbd" stroke-width="4.3"/>
<path d="M1472.7 183.6C1474.1 183.4 1478.0 182.1 1481.0 182.2C1484.0 182.3 1486.2 183.2 1490.6 184.3C1494.9 185.5 1502.5 187.2 1507.1 189.1C1511.7 191.0 1514.0 192.8 1518.1 196.0C1522.2 199.2 1527.8 205.4 1531.9 208.4C1536.0 211.4 1539.5 213.5 1542.9 213.9C1546.3 214.3 1549.8 212.9 1552.5 211.1C1555.2 209.3 1557.1 206.8 1559.4 202.9C1561.7 199.0 1563.9 193.4 1566.2 187.7C1568.5 182.0 1570.8 174.7 1573.1 168.5C1575.4 162.3 1578.0 156.7 1580.0 150.6C1582.0 144.5 1583.4 137.1 1585.1 132.0C1586.8 126.9 1588.2 123.9 1590.0 120.0C1591.8 116.1 1593.8 111.4 1596.1 108.4C1598.4 105.4 1601.5 103.2 1604.0 102.2C1606.5 101.2 1608.7 101.7 1611.0 102.5C1613.3 103.3 1615.6 104.6 1618.1 106.9C1620.6 109.2 1622.8 112.9 1626.0 116.3C1629.2 119.7 1633.8 125.1 1637.0 127.3C1640.2 129.5 1642.8 129.4 1644.9 129.7C1647.0 130.0 1647.0 131.1 1649.6 128.9C1652.2 126.7 1657.5 120.8 1660.6 116.3C1663.7 111.8 1665.5 108.0 1668.4 102.2C1671.3 96.4 1674.8 88.8 1677.9 81.7C1681.1 74.6 1683.4 66.8 1687.3 59.7C1691.2 52.6 1697.0 44.0 1701.4 39.3C1705.9 34.6 1710.1 33.1 1714.0 31.4C1717.9 29.7 1721.2 28.8 1724.6 29.0C1728.0 29.2 1731.1 30.6 1734.4 32.5C1737.7 34.4 1740.9 37.5 1744.2 40.5C1747.5 43.5 1750.7 47.7 1754.0 50.5C1757.3 53.3 1759.8 56.0 1763.9 57.5C1768.0 59.0 1774.5 59.5 1778.6 59.4C1782.7 59.3 1785.1 58.6 1788.4 57.0C1791.7 55.4 1794.9 52.7 1798.2 50.0C1801.5 47.3 1804.8 44.0 1808.1 41.0C1811.4 38.0 1814.6 34.8 1817.9 32.0C1821.2 29.2 1824.4 26.5 1827.7 24.0C1831.0 21.5 1834.9 18.6 1837.5 17.0C1840.1 15.4 1842.4 14.9 1843.4 14.5" stroke="#f5237f" stroke-width="4.3" stroke-dasharray="10.5 17.5"/>
</g>
<rect x="1474.2" y="8.2" width="368.2" height="268.9" fill="none" stroke="#000" stroke-width="2.3"/>
<path d="M1474.2 232.3h4.5M1842.3 232.3h-4.5M1474.2 142.7h4.5M1842.3 142.7h-4.5M1474.2 53.1h4.5M1842.3 53.1h-4.5M1474.2 277.1v-4.5M1474.2 8.2v4.5M1579.4 277.1v-4.5M1579.4 8.2v4.5M1684.5 277.1v-4.5M1684.5 8.2v4.5M1789.8 277.1v-4.5M1789.8 8.2v4.5" stroke="#000" stroke-width="2.3" fill="none"/>
<text transform="translate(1436.83,242.18) scale(0.965,1)" font-size="25.5" fill="#262626" class="t">−2</text>
<text transform="translate(1433.27,152.44) scale(0.965,1)" font-size="25.5" fill="#262626" class="t">−1</text>
<text transform="translate(1447.42,62.82) scale(0.965,1)" font-size="25.5" fill="#262626" class="t">0</text>
<text transform="translate(1467.29,307.40) scale(0.965,1)" font-size="25.5" fill="#262626" class="t">0</text>
<text transform="translate(1572.52,307.40) scale(0.965,1)" font-size="25.5" fill="#262626" class="t">2</text>
<text transform="translate(1677.78,307.40) scale(0.965,1)" font-size="25.5" fill="#262626" class="t">4</text>
<text transform="translate(1782.83,307.40) scale(0.965,1)" font-size="25.5" fill="#262626" class="t">6</text>
<text transform="translate(1624.24,329.70) scale(1.0695,1)" font-size="23.0" fill="#262626" class="t">x, mm</text>
<text transform="translate(1428.70,156.85) rotate(-90) scale(1.0381,1)" font-size="23.0" fill="#262626" class="t">p, Pa</text>
<text transform="translate(1487.48,43.40) scale(0.9455,1)" font-size="29" font-style="italic" fill="#000" class="t">Pressure</text>
<clipPath id="c10"><rect x="76.9" y="350.0" width="375.2" height="274.5"/></clipPath>
<g clip-path="url(#c10)" fill="none" stroke-linecap="round" stroke-linejoin="round">
<path d="M80.8 567.6C82.2 569.1 86.3 574.4 89.4 576.9C92.5 579.4 95.8 579.7 99.4 582.5C103.0 585.3 107.2 590.8 110.8 593.9C114.3 597.0 117.9 599.5 120.7 601.1C123.5 602.7 124.9 603.5 127.8 603.2C130.7 603.0 134.0 601.0 137.8 599.6C141.6 598.2 146.8 595.2 150.6 594.7C154.4 594.2 157.3 595.0 160.6 596.8C163.9 598.6 167.8 602.8 170.6 605.3C173.4 607.8 175.1 610.0 177.7 611.7C180.3 613.4 183.3 615.4 186.2 615.3C189.0 615.2 192.0 614.1 194.8 611.0C197.7 607.9 200.5 602.5 203.3 596.8C206.2 591.1 209.1 583.3 211.9 576.9C214.8 570.5 217.8 562.7 220.4 558.3C223.0 553.9 225.2 551.7 227.6 550.5C230.0 549.3 232.3 549.4 234.7 551.2C237.1 553.0 239.2 558.8 241.8 561.2C244.4 563.6 247.7 565.5 250.3 565.5C252.9 565.5 255.4 563.3 257.5 561.2C259.6 559.1 261.2 555.7 263.0 553.0C264.8 550.3 266.1 549.3 268.0 545.0C269.9 540.7 272.3 533.7 274.7 527.0C277.1 520.3 279.8 512.1 282.4 505.0C284.9 497.9 287.2 491.3 290.0 484.5C292.8 477.7 296.2 470.2 299.0 464.0C301.8 457.8 304.1 452.8 306.6 447.5C309.2 442.2 312.1 436.8 314.3 432.0C316.5 427.2 318.1 424.2 320.0 419.0C321.9 413.8 323.3 407.3 326.0 401.0C328.7 394.7 333.1 386.2 336.3 381.0C339.5 375.8 342.2 372.1 345.0 370.0C347.8 367.9 350.0 368.3 352.8 368.6C355.6 368.9 358.2 369.6 362.0 372.0C365.8 374.4 370.2 378.1 375.5 383.0C380.8 387.9 388.2 394.4 394.0 401.6C399.8 408.8 405.3 417.7 410.5 426.3C415.7 434.9 420.5 446.3 425.0 453.2C429.5 460.1 433.4 462.5 437.4 467.6C441.4 472.8 447.1 481.4 449.0 484.1" stroke="#000000" stroke-width="4.3"/>
<path d="M80.8 569.7C82.7 572.1 87.9 579.5 92.2 584.0C96.5 588.5 101.8 592.8 106.5 596.8C111.2 600.8 116.0 605.4 120.7 607.8C125.5 610.2 130.2 610.9 135.0 611.4C139.8 611.9 144.4 611.5 149.2 610.7C153.9 609.9 158.8 608.3 163.5 606.4C168.2 604.5 173.0 601.9 177.7 599.3C182.4 596.7 187.2 593.8 191.9 590.7C196.7 587.6 201.4 584.6 206.2 580.8C210.9 577.0 215.7 571.8 220.4 568.0C225.2 564.2 229.9 562.0 234.7 558.0C239.4 554.0 245.3 547.3 248.9 544.1C252.5 540.9 253.6 541.0 256.0 539.0C258.4 537.0 260.5 536.5 263.2 532.2C265.9 527.9 269.3 519.4 272.1 513.0C274.9 506.6 277.5 499.6 279.8 493.9C282.1 488.1 283.9 483.8 286.2 478.5C288.5 473.2 291.3 466.6 293.9 461.9C296.4 457.2 298.5 455.3 301.5 450.4C304.5 445.5 308.6 437.8 311.7 432.6C314.8 427.4 316.4 425.2 319.8 419.0C323.2 412.8 328.0 402.1 332.1 395.4C336.2 388.7 340.0 382.5 344.5 378.9C349.0 375.3 354.2 374.0 359.0 373.7C363.8 373.4 368.2 374.2 373.4 376.8C378.5 379.4 384.4 384.2 389.9 389.2C395.4 394.2 400.9 400.0 406.4 406.9C411.9 413.7 417.7 423.0 422.9 430.4C428.1 437.9 433.0 445.7 437.4 451.6C441.8 457.6 447.5 463.8 449.5 466.2" stroke="#4cc6ee" stroke-width="4.3"/>
<path d="M80.8 569.7C82.7 572.1 87.9 579.5 92.2 584.0C96.5 588.5 101.8 593.2 106.5 596.8C111.2 600.3 116.0 603.3 120.7 605.3C125.5 607.3 130.2 608.4 135.0 608.9C139.8 609.4 144.4 609.0 149.2 608.2C153.9 607.4 158.8 605.8 163.5 603.9C168.2 602.0 173.0 599.4 177.7 596.8C182.4 594.2 187.2 591.3 191.9 588.2C196.7 585.1 201.4 582.1 206.2 578.3C210.9 574.5 215.7 569.3 220.4 565.5C225.2 561.7 229.9 559.1 234.7 555.5C239.4 551.9 245.3 546.9 248.9 544.1C252.5 541.4 253.6 541.0 256.0 539.0C258.4 537.0 260.5 536.5 263.2 532.2C265.9 527.9 269.3 519.4 272.1 513.0C274.9 506.6 277.5 499.6 279.8 493.9C282.1 488.1 283.9 483.8 286.2 478.5C288.5 473.2 291.3 466.6 293.9 461.9C296.4 457.2 298.5 455.3 301.5 450.4C304.5 445.5 308.6 437.8 311.7 432.6C314.8 427.4 316.4 425.2 319.8 419.0C323.2 412.8 328.0 402.1 332.1 395.4C336.2 388.7 340.0 382.5 344.5 378.9C349.0 375.3 354.2 374.0 359.0 373.7C363.8 373.4 368.2 374.2 373.4 376.8C378.5 379.4 384.4 384.4 389.9 389.2C395.4 394.0 400.9 399.5 406.4 405.7C411.9 411.9 417.7 419.8 422.9 426.3C428.1 432.8 433.0 439.7 437.4 444.9C441.8 450.1 447.5 455.2 449.5 457.3" stroke="#4763ea" stroke-width="4.3"/>
<path d="M80.8 576.9C82.7 579.3 87.9 586.8 92.2 591.1C96.5 595.4 101.8 599.6 106.5 602.5C111.2 605.4 116.0 606.9 120.7 608.2C125.5 609.5 130.2 610.3 135.0 610.3C139.8 610.3 144.4 609.5 149.2 608.2C153.9 606.9 158.8 604.6 163.5 602.5C168.2 600.4 173.0 597.8 177.7 595.4C182.4 593.0 187.2 590.8 191.9 588.2C196.7 585.6 201.4 582.5 206.2 579.7C210.9 576.9 215.7 573.8 220.4 571.2C225.2 568.6 229.9 566.1 234.7 564.0C239.4 561.9 244.6 560.3 248.9 558.3C253.2 556.3 257.3 554.6 260.3 552.0C263.3 549.4 264.6 546.8 267.0 542.4C269.4 538.0 272.1 532.2 274.7 525.8C277.3 519.4 279.8 511.1 282.4 504.1C284.9 497.1 287.2 490.4 290.0 483.6C292.8 476.8 296.2 469.4 299.0 463.2C301.8 457.0 304.1 451.9 306.6 446.6C309.2 441.3 312.1 436.1 314.3 431.3C316.5 426.5 318.1 423.1 320.0 418.0C321.9 412.9 323.3 407.5 326.0 401.0C328.7 394.5 332.5 384.6 336.3 378.9C340.1 373.1 344.9 368.6 348.7 366.5C352.5 364.4 355.2 365.5 359.0 366.5C362.8 367.5 366.8 369.6 371.3 372.7C375.8 375.8 380.6 380.0 385.8 385.1C391.0 390.2 397.2 397.1 402.3 403.6C407.4 410.1 411.9 417.4 416.7 424.3C421.5 431.2 427.1 438.7 431.2 444.9C435.3 451.1 438.5 455.5 441.5 461.4C444.5 467.2 447.8 476.9 449.0 480.0" stroke="#6a0cbd" stroke-width="4.3"/>
<path d="M80.8 535.5C81.8 537.2 83.9 541.0 86.5 545.5C89.1 550.0 93.9 558.3 96.5 562.6C99.1 566.9 99.6 567.4 102.2 571.2C104.8 575.0 109.1 581.9 112.2 585.4C115.3 588.9 116.9 590.1 120.7 592.5C124.5 594.9 130.7 597.9 135.0 599.6C139.3 601.3 141.7 602.4 146.4 602.5C151.2 602.6 158.8 601.4 163.5 600.4C168.2 599.4 170.6 598.5 174.9 596.8C179.2 595.1 184.8 592.4 189.1 590.4C193.4 588.4 196.5 587.4 200.5 584.7C204.5 582.0 210.0 577.2 213.3 574.0C216.6 570.8 217.3 569.1 220.4 565.5C223.5 561.9 228.2 555.8 231.8 552.6C235.4 549.4 238.8 547.5 241.8 546.2C244.8 544.9 247.3 545.2 250.0 545.0C252.7 544.8 255.9 545.5 258.1 545.0C260.3 544.5 261.3 543.2 263.0 542.0C264.7 540.8 266.6 540.8 268.3 537.9C270.0 535.0 271.4 528.9 273.4 524.5C275.4 520.1 278.7 515.1 280.4 511.7C282.1 508.3 281.9 508.2 283.6 504.0C285.3 499.8 288.4 491.5 290.7 486.2C293.0 480.9 294.7 475.8 297.7 472.1C300.7 468.4 305.1 467.4 308.5 464.0C311.9 460.6 315.4 455.7 318.1 451.7C320.8 447.7 322.5 444.8 324.5 440.2C326.5 435.6 327.8 430.4 330.1 424.3C332.4 418.2 335.6 409.3 338.3 403.6C341.1 397.9 343.2 393.6 346.6 390.2C350.1 386.8 354.2 384.4 359.0 383.0C363.8 381.6 370.4 381.3 375.5 382.0C380.6 382.7 385.4 384.7 389.9 387.1C394.4 389.5 398.2 392.3 402.3 396.4C406.4 400.5 410.6 405.9 414.7 411.9C418.8 417.9 423.3 426.0 427.1 432.5C430.9 439.0 434.3 445.2 437.4 451.1C440.5 457.0 443.6 463.5 445.6 467.6C447.6 471.8 448.9 474.6 449.5 476.0" stroke="#f5237f" stroke-width="4.3" stroke-dasharray="10.5 17.5"/>
</g>
<rect x="79.9" y="353.0" width="369.2" height="268.5" fill="none" stroke="#000" stroke-width="2.3"/>
<path d="M79.9 601.5h4.5M449.1 601.5h-4.5M79.9 518.9h4.5M449.1 518.9h-4.5M79.9 436.3h4.5M449.1 436.3h-4.5M79.9 353.7h4.5M449.1 353.7h-4.5M79.9 621.5v-4.5M79.9 353.0v4.5M172.2 621.5v-4.5M172.2 353.0v4.5M264.5 621.5v-4.5M264.5 353.0v4.5M356.8 621.5v-4.5M356.8 353.0v4.5M449.1 621.5v-4.5M449.1 353.0v4.5" stroke="#000" stroke-width="2.3" fill="none"/>
<text transform="translate(21.39,611.27) scale(0.965,1)" font-size="25.5" fill="#262626" class="t">−150</text>
<text transform="translate(21.39,528.67) scale(0.965,1)" font-size="25.5" fill="#262626" class="t">−100</text>
<text transform="translate(35.11,446.07) scale(0.965,1)" font-size="25.5" fill="#262626" class="t">−50</text>
<text transform="translate(63.17,363.47) scale(0.965,1)" font-size="25.5" fill="#262626" class="t">0</text>
<text transform="translate(73.04,652.70) scale(0.965,1)" font-size="25.5" fill="#262626" class="t">0</text>
<text transform="translate(165.38,652.70) scale(0.965,1)" font-size="25.5" fill="#262626" class="t">2</text>
<text transform="translate(257.76,652.70) scale(0.965,1)" font-size="25.5" fill="#262626" class="t">4</text>
<text transform="translate(349.92,652.70) scale(0.965,1)" font-size="25.5" fill="#262626" class="t">6</text>
<text transform="translate(442.32,652.70) scale(0.965,1)" font-size="25.5" fill="#262626" class="t">8</text>
<text transform="translate(230.52,674.80) scale(1.0695,1)" font-size="23.0" fill="#262626" class="t">x, mm</text>
<text transform="translate(18.90,531.42) rotate(-90) scale(1.0848,1)" font-size="23.0" fill="#262626" class="t">u, mm/s</text>
<text transform="translate(93.79,391.80) scale(0.9922,1)" font-size="33" font-weight="bold" fill="#000">Isoturb</text>
<text transform="translate(92.93,427.00) scale(0.9524,1)" font-size="29" font-style="italic" fill="#000" class="t">u-velocity</text>
<clipPath id="c11"><rect x="542.9" y="349.8" width="374.6" height="274.7"/></clipPath>
<g clip-path="url(#c11)" fill="none" stroke-linecap="round" stroke-linejoin="round">
<path d="M545.4 532.6C547.5 528.7 554.0 515.6 558.2 509.0C562.5 502.4 567.0 496.9 570.9 492.7C574.8 488.5 578.8 485.4 581.8 483.6C584.8 481.8 586.0 480.6 589.0 481.8C592.0 483.0 596.7 487.0 600.0 490.9C603.3 494.8 605.7 499.6 609.0 505.4C612.3 511.1 616.0 520.2 619.9 525.4C623.8 530.5 629.0 535.1 632.6 536.3C636.2 537.5 638.7 533.4 641.7 532.6C644.7 531.8 647.8 530.5 650.8 531.7C653.8 532.9 657.2 535.8 659.9 539.9C662.6 544.0 664.5 549.6 667.2 556.3C669.9 563.0 673.2 572.3 676.2 579.9C679.2 587.5 682.6 596.7 685.3 601.7C688.0 606.7 690.2 608.9 692.6 609.8C695.0 610.7 696.9 610.3 699.9 607.1C702.9 603.9 707.5 599.0 710.8 590.8C714.1 582.6 717.4 567.6 719.8 558.1C722.2 548.6 721.9 550.1 725.0 534.0C728.1 517.9 733.9 484.4 738.3 461.2C742.7 438.0 748.0 409.4 751.5 394.8C755.0 380.2 756.8 377.8 759.5 373.6C762.2 369.4 764.9 368.3 767.5 369.6C770.1 370.9 772.8 374.2 775.4 381.5C778.0 388.8 780.3 401.0 783.4 413.4C786.5 425.8 790.5 443.4 794.0 455.8C797.5 468.2 800.6 479.7 804.6 487.7C808.6 495.7 812.6 498.3 817.9 503.6C823.2 508.9 830.8 515.5 836.5 519.5C842.2 523.5 846.6 525.1 852.4 527.5C858.1 529.9 865.7 533.4 871.0 534.1C876.3 534.8 880.2 532.6 884.2 531.5C888.2 530.4 891.4 527.7 894.9 527.5C898.4 527.3 902.5 528.6 905.5 530.2C908.5 531.8 911.8 535.9 913.0 537.0" stroke="#000000" stroke-width="4.3"/>
<path d="M545.4 526.7C547.5 525.0 553.7 519.9 558.2 516.7C562.8 513.5 567.6 509.6 572.7 507.6C577.8 505.6 584.5 504.9 589.0 504.9C593.5 504.9 596.0 506.0 600.0 507.7C604.0 509.4 607.6 511.3 612.7 514.9C617.8 518.5 624.8 524.0 630.8 529.4C636.8 534.9 642.9 540.9 649.0 547.6C655.1 554.3 661.2 563.1 667.2 569.4C673.2 575.8 680.8 582.5 685.3 585.7C689.8 588.9 692.9 588.0 694.4 588.4" stroke="#f5237f" stroke-width="4.3"/>
<path d="M545.4 524.5C547.5 522.8 553.7 517.7 558.2 514.5C562.8 511.3 567.6 507.4 572.7 505.4C577.8 503.4 584.5 502.7 589.0 502.7C593.5 502.7 596.0 503.8 600.0 505.5C604.0 507.2 607.6 509.1 612.7 512.7C617.8 516.3 624.8 521.8 630.8 527.2C636.8 532.7 642.9 538.7 649.0 545.4C655.1 552.1 661.2 560.9 667.2 567.2C673.2 573.6 680.8 580.3 685.3 583.5C689.8 586.7 691.4 586.5 694.4 586.2C697.4 585.9 700.2 586.4 703.5 581.7C706.8 577.0 711.6 565.9 714.4 558.1C717.1 550.3 718.2 542.3 720.0 535.0C721.8 527.7 722.0 527.4 725.0 514.2C728.0 501.0 733.9 473.5 738.3 455.8C742.7 438.1 747.5 417.8 751.5 408.1C755.5 398.4 758.7 396.6 762.2 397.5C765.8 398.4 769.3 405.9 772.8 413.4C776.3 420.9 779.4 432.0 783.4 442.6C787.4 453.2 792.3 467.8 796.7 477.1C801.1 486.4 805.0 492.6 809.9 498.3C814.8 504.1 820.5 507.6 825.8 511.6C831.1 515.6 836.5 519.8 841.8 522.2C847.1 524.6 852.4 525.5 857.7 526.2C863.0 526.9 868.7 526.0 873.6 526.2C878.5 526.4 882.5 525.1 886.9 527.5C891.3 529.9 895.9 535.4 900.2 540.8C904.6 546.2 910.9 556.8 913.0 560.0" stroke="#4763ea" stroke-width="4.3"/>
<path d="M545.4 525.4C547.5 523.3 553.7 516.3 558.2 512.7C562.8 509.1 567.9 505.9 572.7 503.6C577.5 501.3 582.7 499.3 587.2 499.0C591.8 498.7 595.8 500.1 600.0 501.8C604.2 503.5 608.2 505.7 612.7 509.0C617.2 512.3 622.4 517.2 627.2 521.7C632.0 526.2 636.6 530.8 641.7 536.3C646.9 541.8 653.0 548.3 658.1 554.4C663.2 560.5 668.1 566.8 672.6 572.6C677.1 578.4 681.4 585.1 685.3 589.0C689.2 592.9 692.6 595.9 696.2 596.2C699.8 596.5 703.5 595.6 707.1 590.8C710.7 586.0 715.0 579.3 718.0 567.2C721.0 555.1 721.6 538.8 725.0 518.0C728.4 497.2 733.9 463.1 738.3 442.6C742.7 422.1 747.5 405.0 751.5 394.8C755.5 384.6 758.7 381.1 762.2 381.5C765.8 381.9 769.3 388.6 772.8 397.5C776.3 406.4 779.9 422.7 783.4 434.6C786.9 446.5 790.0 458.9 794.0 469.1C798.0 479.3 802.4 489.9 807.3 495.7C812.2 501.4 817.5 501.0 823.2 503.6C829.0 506.2 836.0 509.2 841.8 511.6C847.5 514.0 852.4 516.7 857.7 518.2C863.0 519.8 868.3 519.8 873.6 520.9C878.9 522.0 884.2 522.8 889.5 524.8C894.8 526.8 901.6 530.3 905.5 532.8C909.4 535.2 911.8 538.4 913.0 539.5" stroke="#6a0cbd" stroke-width="4.3"/>
<path d="M545.4 534.5C547.5 533.0 553.1 528.4 558.2 525.4C563.4 522.4 570.2 518.3 576.3 516.3C582.3 514.3 589.0 513.0 594.5 513.6C600.0 514.2 603.9 516.4 609.0 519.9C614.1 523.4 619.9 530.0 625.4 534.5C630.9 539.0 637.2 543.6 641.7 547.2C646.2 550.8 648.4 553.0 652.6 556.3C656.9 559.6 662.4 563.3 667.2 567.2C672.1 571.1 677.2 576.6 681.7 579.9C686.2 583.2 690.8 586.5 694.4 587.1C698.0 587.7 700.5 587.1 703.5 583.5C706.5 579.9 709.6 573.2 712.6 565.3C715.6 557.4 719.0 549.8 721.7 536.3C724.4 522.8 726.1 500.1 728.9 484.0C731.7 467.9 734.5 452.5 738.3 439.9C742.1 427.2 747.5 414.5 751.5 408.1C755.5 401.7 758.7 400.1 762.2 401.4C765.8 402.7 768.8 406.0 772.8 416.0C776.8 426.0 782.0 447.9 786.0 461.2C790.0 474.5 793.6 487.3 796.7 495.7C799.8 504.1 801.5 508.3 804.6 511.6C807.7 514.9 810.8 514.9 815.2 515.6C819.6 516.3 825.9 515.0 831.2 515.6C836.5 516.2 841.4 518.6 847.1 519.5C852.9 520.4 860.0 520.2 865.7 520.9C871.5 521.6 876.3 520.6 881.6 523.5C886.9 526.4 892.6 531.7 897.5 538.1C902.4 544.5 908.2 557.4 910.8 562.0C913.4 566.6 912.6 565.3 913.0 566.0" stroke="#f5237f" stroke-width="4.3" stroke-dasharray="10.5 17.5"/>
</g>
<rect x="545.9" y="352.8" width="368.6" height="268.7" fill="none" stroke="#000" stroke-width="2.3"/>
<path d="M545.9 605.5h4.5M914.5 605.5h-4.5M545.9 534.5h4.5M914.5 534.5h-4.5M545.9 463.4h4.5M914.5 463.4h-4.5M545.9 392.4h4.5M914.5 392.4h-4.5M545.9 621.5v-4.5M545.9 352.8v4.5M638.1 621.5v-4.5M638.1 352.8v4.5M730.2 621.5v-4.5M730.2 352.8v4.5M822.4 621.5v-4.5M822.4 352.8v4.5M914.5 621.5v-4.5M914.5 352.8v4.5" stroke="#000" stroke-width="2.3" fill="none"/>
<text transform="translate(501.79,615.27) scale(0.965,1)" font-size="25.5" fill="#262626" class="t">200</text>
<text transform="translate(501.79,544.23) scale(0.965,1)" font-size="25.5" fill="#262626" class="t">250</text>
<text transform="translate(501.79,473.20) scale(0.965,1)" font-size="25.5" fill="#262626" class="t">300</text>
<text transform="translate(501.79,402.17) scale(0.965,1)" font-size="25.5" fill="#262626" class="t">350</text>
<text transform="translate(539.04,652.70) scale(0.965,1)" font-size="25.5" fill="#262626" class="t">0</text>
<text transform="translate(631.23,652.70) scale(0.965,1)" font-size="25.5" fill="#262626" class="t">2</text>
<text transform="translate(723.46,652.70) scale(0.965,1)" font-size="25.5" fill="#262626" class="t">4</text>
<text transform="translate(815.47,652.70) scale(0.965,1)" font-size="25.5" fill="#262626" class="t">6</text>
<text transform="translate(907.72,652.70) scale(0.965,1)" font-size="25.5" fill="#262626" class="t">8</text>
<text transform="translate(696.22,674.80) scale(1.0695,1)" font-size="23.0" fill="#262626" class="t">x, mm</text>
<text transform="translate(491.70,529.33) rotate(-90) scale(1.0905,1)" font-size="23.0" fill="#262626" class="t">v, mm/s</text>
<text transform="translate(559.49,388.00) scale(0.9494,1)" font-size="29" font-style="italic" fill="#000" class="t">v-velocity</text>
<clipPath id="c12"><rect x="1005.6" y="350.1" width="374.7" height="274.4"/></clipPath>
<g clip-path="url(#c12)" fill="none" stroke-linecap="round" stroke-linejoin="round">
<path d="M1010.5 445.5C1012.2 447.3 1016.7 453.1 1020.7 456.4C1024.7 459.7 1029.9 462.4 1034.5 465.2C1039.1 468.0 1043.3 469.8 1048.2 473.1C1053.1 476.4 1058.8 481.0 1064.0 484.8C1069.2 488.6 1075.1 492.6 1079.7 495.7C1084.3 498.8 1087.6 501.2 1091.5 503.5C1095.4 505.8 1099.0 506.6 1103.3 509.4C1107.5 512.2 1113.1 516.8 1117.0 520.2C1120.9 523.6 1123.0 527.3 1126.8 530.0C1130.6 532.7 1136.9 535.1 1140.0 536.4C1143.1 537.7 1143.2 538.1 1145.5 537.7C1147.8 537.4 1151.0 534.5 1153.7 534.3C1156.5 534.1 1159.2 534.7 1162.0 536.4C1164.8 538.1 1167.9 541.6 1170.2 544.6C1172.5 547.6 1173.6 550.1 1175.7 554.2C1177.8 558.3 1179.8 564.5 1182.6 569.3C1185.3 574.1 1189.0 579.0 1192.2 583.1C1195.4 587.2 1198.7 590.8 1201.9 594.1C1205.1 597.4 1208.5 601.0 1211.5 603.0C1214.5 605.0 1217.2 606.1 1219.7 605.8C1222.2 605.5 1224.3 603.6 1226.6 601.0C1228.9 598.4 1231.0 594.6 1233.5 590.0C1236.0 585.4 1239.0 578.5 1241.7 573.5C1244.5 568.5 1247.0 564.3 1250.0 559.7C1253.0 555.1 1256.6 551.6 1260.0 546.0C1263.4 540.4 1266.5 534.2 1270.2 526.2C1273.9 518.2 1278.0 507.7 1281.9 497.9C1285.8 488.1 1289.4 477.0 1293.7 467.2C1298.0 457.4 1303.2 446.8 1307.9 438.9C1312.6 431.0 1317.3 426.0 1322.0 420.1C1326.7 414.2 1331.5 408.7 1336.2 403.6C1340.9 398.5 1346.0 393.2 1350.3 389.4C1354.6 385.6 1358.6 382.9 1362.1 381.0C1365.5 379.1 1368.3 378.5 1371.0 378.0C1373.7 377.5 1376.8 378.0 1378.0 378.0" stroke="#000000" stroke-width="4.3"/>
<path d="M1010.5 462.8C1012.9 463.1 1019.1 463.7 1024.7 464.7C1030.3 465.7 1037.8 467.2 1044.3 468.7C1050.8 470.2 1057.5 471.3 1064.0 473.6C1070.5 475.9 1077.0 478.8 1083.6 482.4C1090.1 486.0 1096.8 491.1 1103.3 495.2C1109.8 499.3 1116.8 503.6 1122.9 507.0C1129.0 510.4 1134.9 512.9 1140.0 515.5C1145.1 518.1 1149.1 520.3 1153.7 522.4C1158.3 524.5 1162.5 526.2 1167.5 527.9C1172.5 529.6 1179.4 530.7 1184.0 532.7C1188.6 534.8 1191.3 537.0 1195.0 540.2C1198.7 543.4 1202.6 548.8 1206.0 551.9C1209.4 555.0 1212.6 557.3 1215.6 558.7C1218.6 560.1 1220.8 560.6 1223.8 560.1C1226.8 559.6 1230.0 558.4 1233.5 556.0C1237.0 553.6 1240.1 549.4 1244.5 545.7C1248.9 542.0 1256.1 537.2 1260.0 534.0C1263.9 530.8 1264.5 530.3 1267.8 526.3C1271.1 522.3 1275.3 518.0 1279.6 509.8C1283.9 501.6 1289.0 488.1 1293.7 476.8C1298.4 465.5 1303.2 451.4 1307.9 442.1C1312.6 432.8 1316.9 427.2 1322.0 420.9C1327.1 414.6 1333.4 408.1 1338.5 404.4C1343.6 400.7 1348.4 398.5 1352.7 398.5C1357.0 398.5 1360.2 401.1 1364.4 404.4C1368.6 407.7 1375.7 416.1 1378.0 418.5" stroke="#4cc6ee" stroke-width="4.3"/>
<path d="M1010.5 460.3C1012.9 460.6 1019.1 461.2 1024.7 462.2C1030.3 463.2 1037.8 464.7 1044.3 466.2C1050.8 467.7 1057.5 468.8 1064.0 471.1C1070.5 473.4 1077.0 476.3 1083.6 479.9C1090.1 483.5 1096.8 488.6 1103.3 492.7C1109.8 496.8 1116.8 501.1 1122.9 504.5C1129.0 507.9 1134.9 510.4 1140.0 513.0C1145.1 515.6 1149.1 517.8 1153.7 519.9C1158.3 522.0 1162.5 523.7 1167.5 525.4C1172.5 527.1 1179.4 528.2 1184.0 530.2C1188.6 532.2 1191.3 534.8 1195.0 537.7C1198.7 540.6 1202.6 544.6 1206.0 547.4C1209.4 550.1 1212.6 552.8 1215.6 554.2C1218.6 555.6 1220.8 556.1 1223.8 555.6C1226.8 555.1 1230.0 553.6 1233.5 551.5C1237.0 549.4 1240.1 546.5 1244.5 543.2C1248.9 539.9 1256.1 534.7 1260.0 531.5C1263.9 528.3 1264.5 527.8 1267.8 523.8C1271.1 519.8 1275.3 515.5 1279.6 507.3C1283.9 499.1 1289.0 484.9 1293.7 474.3C1298.4 463.7 1303.2 452.2 1307.9 443.6C1312.6 435.0 1316.9 428.7 1322.0 422.4C1327.1 416.1 1333.4 409.6 1338.5 405.9C1343.6 402.2 1348.4 400.0 1352.7 400.0C1357.0 400.0 1360.2 402.6 1364.4 405.9C1368.6 409.2 1375.7 417.6 1378.0 420.0" stroke="#4763ea" stroke-width="4.3"/>
<path d="M1010.5 468.1C1012.9 468.4 1019.1 469.3 1024.7 470.1C1030.3 470.9 1037.8 471.6 1044.3 473.1C1050.8 474.6 1058.1 476.7 1064.0 479.0C1069.9 481.3 1074.8 483.9 1079.7 486.8C1084.6 489.7 1087.8 492.8 1093.4 496.6C1099.0 500.4 1106.5 505.7 1113.1 509.4C1119.6 513.1 1128.2 516.7 1132.7 519.0C1137.2 521.3 1136.5 521.0 1140.0 523.0C1143.5 525.0 1149.1 528.3 1153.7 530.9C1158.3 533.5 1162.9 536.1 1167.5 538.4C1172.1 540.7 1177.1 542.4 1181.2 544.6C1185.3 546.8 1188.8 548.5 1192.2 551.5C1195.7 554.5 1198.7 558.8 1201.9 562.5C1205.1 566.2 1208.3 570.4 1211.5 573.5C1214.7 576.6 1218.1 580.1 1221.1 581.0C1224.1 581.9 1226.3 581.2 1229.3 579.0C1232.3 576.8 1235.5 572.1 1239.0 568.0C1242.5 563.9 1246.5 558.6 1250.0 554.2C1253.5 549.9 1257.3 545.5 1260.0 541.9C1262.7 538.3 1262.7 538.7 1266.0 532.5C1269.3 526.3 1275.0 515.4 1279.6 504.9C1284.2 494.4 1289.0 480.2 1293.7 469.6C1298.4 459.0 1303.2 449.6 1307.9 441.3C1312.6 433.1 1317.3 426.8 1322.0 420.1C1326.7 413.4 1331.5 405.9 1336.2 401.2C1340.9 396.5 1346.0 393.2 1350.3 391.8C1354.6 390.4 1357.5 391.1 1362.1 393.0C1366.7 394.9 1375.3 401.3 1378.0 403.0" stroke="#6a0cbd" stroke-width="4.3"/>
<path d="M1010.5 459.0C1011.9 458.2 1014.8 455.0 1018.8 454.4C1022.8 453.8 1030.2 454.6 1034.5 455.4C1038.8 456.2 1039.4 457.5 1044.3 459.3C1049.2 461.1 1059.1 464.6 1064.0 466.2C1068.9 467.8 1069.9 467.0 1073.8 469.1C1077.7 471.2 1083.6 476.2 1087.5 479.0C1091.4 481.8 1093.1 482.7 1097.4 485.8C1101.7 488.9 1108.8 495.0 1113.1 497.6C1117.3 500.2 1118.0 499.4 1122.9 501.5C1127.8 503.6 1136.0 507.6 1142.6 510.4C1149.1 513.2 1157.3 516.7 1162.2 518.3C1167.1 519.9 1168.9 520.2 1172.0 520.2C1175.1 520.2 1178.0 519.1 1181.0 518.5C1184.0 517.9 1186.9 515.8 1190.0 516.7C1193.1 517.6 1196.2 520.3 1199.4 523.8C1202.6 527.3 1205.8 534.0 1208.9 537.9C1212.1 541.8 1214.8 547.4 1218.3 547.4C1221.8 547.4 1226.2 541.8 1230.1 537.9C1234.0 534.0 1238.4 527.1 1241.9 523.8C1245.4 520.5 1248.5 518.5 1251.3 517.9C1254.0 517.3 1255.2 519.7 1258.4 520.3C1261.6 520.9 1266.7 522.8 1270.2 521.4C1273.7 520.0 1276.5 517.5 1279.6 512.0C1282.7 506.5 1285.1 497.0 1289.0 488.4C1292.9 479.8 1298.9 468.8 1303.2 460.2C1307.5 451.6 1310.6 444.9 1314.9 436.6C1319.2 428.3 1324.8 417.3 1329.1 410.6C1333.4 403.9 1337.0 399.2 1340.9 396.5C1344.8 393.8 1348.8 392.5 1352.7 394.1C1356.6 395.7 1361.3 401.2 1364.4 405.9C1367.5 410.6 1369.2 417.4 1371.5 422.4C1373.8 427.4 1376.9 433.7 1378.0 436.0" stroke="#f5237f" stroke-width="4.3" stroke-dasharray="10.5 17.5"/>
</g>
<rect x="1008.6" y="353.1" width="368.7" height="268.4" fill="none" stroke="#000" stroke-width="2.3"/>
<path d="M1008.6 608.7h4.5M1377.3 608.7h-4.5M1008.6 553.4h4.5M1377.3 553.4h-4.5M1008.6 498.0h4.5M1377.3 498.0h-4.5M1008.6 442.6h4.5M1377.3 442.6h-4.5M1008.6 387.3h4.5M1377.3 387.3h-4.5M1008.6 621.5v-4.5M1008.6 353.1v4.5M1100.8 621.5v-4.5M1100.8 353.1v4.5M1193.0 621.5v-4.5M1193.0 353.1v4.5M1285.1 621.5v-4.5M1285.1 353.1v4.5M1377.3 621.5v-4.5M1377.3 353.1v4.5" stroke="#000" stroke-width="2.3" fill="none"/>
<text transform="translate(950.89,618.47) scale(0.965,1)" font-size="25.5" fill="#262626" class="t">−150</text>
<text transform="translate(950.89,563.12) scale(0.965,1)" font-size="25.5" fill="#262626" class="t">−100</text>
<text transform="translate(964.61,507.77) scale(0.965,1)" font-size="25.5" fill="#262626" class="t">−50</text>
<text transform="translate(992.67,452.42) scale(0.965,1)" font-size="25.5" fill="#262626" class="t">0</text>
<text transform="translate(979.01,397.07) scale(0.965,1)" font-size="25.5" fill="#262626" class="t">50</text>
<text transform="translate(1001.74,652.70) scale(0.965,1)" font-size="25.5" fill="#262626" class="t">0</text>
<text transform="translate(1093.95,652.70) scale(0.965,1)" font-size="25.5" fill="#262626" class="t">2</text>
<text transform="translate(1186.18,652.70) scale(0.965,1)" font-size="25.5" fill="#262626" class="t">4</text>
<text transform="translate(1278.20,652.70) scale(0.965,1)" font-size="25.5" fill="#262626" class="t">6</text>
<text transform="translate(1370.47,652.70) scale(0.965,1)" font-size="25.5" fill="#262626" class="t">8</text>
<text transform="translate(1158.94,674.80) scale(1.0695,1)" font-size="23.0" fill="#262626" class="t">x, mm</text>
<text transform="translate(962.30,531.70) rotate(-90) scale(1.0928,1)" font-size="23.0" fill="#262626" class="t">w, mm/s</text>
<text transform="translate(1022.30,388.00) scale(0.9661,1)" font-size="29" font-style="italic" fill="#000" class="t">w-velocity</text>
<clipPath id="c13"><rect x="1472.3" y="351.0" width="375.0" height="274.5"/></clipPath>
<g clip-path="url(#c13)" fill="none" stroke-linecap="round" stroke-linejoin="round">
<path d="M1474.7 402.4C1477.8 403.3 1486.5 405.7 1493.6 407.9C1500.7 410.1 1509.2 412.7 1517.1 415.7C1524.9 418.7 1532.8 422.6 1540.7 425.9C1548.6 429.2 1556.4 432.1 1564.3 435.4C1572.2 438.7 1582.0 443.0 1587.9 445.6C1593.9 448.2 1595.7 448.5 1600.0 451.0C1604.3 453.5 1609.6 457.4 1613.7 460.6C1617.8 463.8 1620.1 465.9 1624.7 470.2C1629.3 474.5 1635.7 481.0 1641.2 486.7C1646.7 492.4 1652.0 499.6 1657.7 504.6C1663.4 509.7 1670.5 512.9 1675.6 517.0C1680.6 521.1 1684.1 524.3 1688.0 529.3C1691.9 534.3 1695.3 541.5 1699.0 547.2C1702.7 552.9 1706.8 558.7 1710.0 563.7C1713.2 568.7 1716.1 573.7 1718.2 577.0C1720.3 580.3 1719.5 580.0 1722.6 583.5C1725.7 587.0 1732.2 594.5 1736.7 598.3C1741.2 602.1 1744.6 604.5 1749.3 606.2C1754.0 607.9 1759.8 608.5 1765.0 608.5C1770.2 608.5 1775.5 607.9 1780.7 606.2C1785.9 604.5 1791.2 601.4 1796.4 598.3C1801.7 595.1 1807.0 591.5 1812.2 587.3C1817.5 583.1 1822.9 578.8 1827.9 573.2C1833.0 567.7 1840.1 557.2 1842.5 554.0" stroke="#000000" stroke-width="4.3"/>
<path d="M1474.7 419.6C1479.2 420.9 1491.7 424.4 1501.4 427.5C1511.1 430.6 1522.4 434.5 1532.9 438.0C1543.4 441.5 1553.8 444.6 1564.3 448.3C1574.8 452.0 1585.2 455.7 1595.7 460.0C1606.2 464.3 1619.3 470.1 1627.2 474.0C1635.1 477.9 1638.3 480.5 1642.9 483.5C1647.5 486.5 1650.4 488.4 1655.0 492.0C1659.6 495.6 1665.5 500.2 1670.7 505.0C1675.9 509.8 1681.2 515.3 1686.4 521.0C1691.6 526.7 1696.8 533.1 1702.1 539.0C1707.3 544.9 1712.7 551.2 1717.9 556.5C1723.2 561.8 1728.4 567.2 1733.6 571.0C1738.8 574.8 1744.1 577.7 1749.3 579.5C1754.5 581.3 1759.8 582.1 1765.0 582.0C1770.2 581.9 1775.5 581.1 1780.7 579.0C1785.9 576.9 1791.2 573.5 1796.4 569.5C1801.7 565.5 1807.0 560.3 1812.2 555.0C1817.5 549.7 1822.9 542.8 1827.9 537.5C1833.0 532.2 1840.1 525.4 1842.5 523.0" stroke="#4cc6ee" stroke-width="4.3"/>
<path d="M1474.7 424.4C1479.2 425.6 1491.7 428.6 1501.4 431.4C1511.1 434.1 1522.4 437.8 1532.9 440.9C1543.4 444.0 1553.8 446.9 1564.3 450.3C1574.8 453.7 1585.2 457.2 1595.7 461.3C1606.2 465.4 1619.3 470.9 1627.2 474.6C1635.1 478.3 1638.3 480.5 1642.9 483.3C1647.5 486.1 1650.4 487.9 1655.0 491.4C1659.6 494.8 1665.5 499.3 1670.7 504.0C1675.9 508.7 1681.2 514.2 1686.4 519.7C1691.6 525.2 1696.8 531.2 1702.1 537.0C1707.3 542.8 1712.7 549.1 1717.9 554.3C1723.2 559.5 1728.4 564.6 1733.6 568.4C1738.8 572.2 1744.1 575.3 1749.3 577.1C1754.5 578.9 1759.8 579.5 1765.0 579.4C1770.2 579.3 1775.5 578.4 1780.7 576.3C1785.9 574.2 1791.2 570.8 1796.4 566.9C1801.7 563.0 1807.0 558.0 1812.2 552.7C1817.5 547.5 1822.9 540.6 1827.9 535.4C1833.0 530.2 1840.1 523.8 1842.5 521.5" stroke="#4763ea" stroke-width="4.3"/>
<path d="M1474.7 415.7C1479.2 417.0 1491.7 420.6 1501.4 423.6C1511.1 426.6 1522.4 430.1 1532.9 433.8C1543.4 437.5 1553.1 441.6 1564.3 445.6C1575.5 449.6 1589.5 453.1 1600.0 457.9C1610.5 462.7 1618.3 467.8 1627.5 474.4C1636.7 481.0 1647.8 491.6 1655.0 497.7C1662.2 503.8 1666.1 506.9 1670.7 511.0C1675.3 515.1 1678.2 517.8 1682.5 522.5C1686.8 527.2 1691.6 533.3 1696.2 539.0C1700.8 544.7 1706.0 551.8 1710.0 556.8C1714.0 561.8 1716.1 564.4 1720.0 569.2C1723.9 574.0 1728.7 581.4 1733.6 585.7C1738.5 590.0 1744.1 593.1 1749.3 595.2C1754.5 597.3 1759.8 598.3 1765.0 598.3C1770.2 598.3 1775.5 597.6 1780.7 595.2C1785.9 592.9 1791.2 588.4 1796.4 584.2C1801.7 580.0 1807.0 575.5 1812.2 570.0C1817.5 564.5 1822.9 557.3 1827.9 551.2C1833.0 545.1 1840.1 536.5 1842.5 533.5" stroke="#6a0cbd" stroke-width="4.3"/>
<path d="M1474.7 422.8C1476.5 422.9 1479.9 422.6 1485.7 423.6C1491.5 424.7 1500.9 426.6 1509.3 429.1C1517.7 431.6 1526.8 435.1 1536.0 438.5C1545.2 441.9 1555.4 446.0 1564.3 449.5C1573.2 453.0 1580.8 456.3 1589.4 459.7C1598.1 463.1 1607.6 466.0 1616.2 469.9C1624.8 473.8 1634.0 479.1 1641.3 483.3C1648.5 487.6 1654.8 492.1 1659.7 495.4C1664.6 498.7 1666.2 499.4 1670.7 503.2C1675.2 507.0 1680.6 512.5 1686.4 518.1C1692.2 523.7 1698.8 531.0 1705.3 537.0C1711.8 543.0 1718.4 549.1 1725.7 554.3C1733.0 559.5 1741.4 565.1 1749.3 568.4C1757.2 571.7 1766.4 573.6 1772.9 573.9C1779.5 574.2 1783.4 572.5 1788.6 570.0C1793.8 567.5 1799.1 563.2 1804.3 559.0C1809.5 554.8 1814.8 550.1 1820.0 544.9C1825.2 539.7 1832.0 531.9 1835.7 527.6C1839.5 523.3 1841.4 520.4 1842.5 519.0" stroke="#f5237f" stroke-width="4.3" stroke-dasharray="10.5 17.5"/>
</g>
<rect x="1475.3" y="354.0" width="369.0" height="268.5" fill="none" stroke="#000" stroke-width="2.3"/>
<path d="M1475.3 611.2h4.5M1844.3 611.2h-4.5M1475.3 549.7h4.5M1844.3 549.7h-4.5M1475.3 488.2h4.5M1844.3 488.2h-4.5M1475.3 426.7h4.5M1844.3 426.7h-4.5M1475.3 365.2h4.5M1844.3 365.2h-4.5M1475.3 622.5v-4.5M1475.3 354.0v4.5M1567.5 622.5v-4.5M1567.5 354.0v4.5M1659.8 622.5v-4.5M1659.8 354.0v4.5M1752.0 622.5v-4.5M1752.0 354.0v4.5M1844.3 622.5v-4.5M1844.3 354.0v4.5" stroke="#000" stroke-width="2.3" fill="none"/>
<text transform="translate(1429.31,620.97) scale(0.965,1)" font-size="25.5" fill="#262626" class="t">−20</text>
<text transform="translate(1429.31,559.47) scale(0.965,1)" font-size="25.5" fill="#262626" class="t">−10</text>
<text transform="translate(1457.37,497.97) scale(0.965,1)" font-size="25.5" fill="#262626" class="t">0</text>
<text transform="translate(1443.71,436.47) scale(0.965,1)" font-size="25.5" fill="#262626" class="t">10</text>
<text transform="translate(1443.71,374.97) scale(0.965,1)" font-size="25.5" fill="#262626" class="t">20</text>
<text transform="translate(1468.44,653.75) scale(0.965,1)" font-size="25.5" fill="#262626" class="t">0</text>
<text transform="translate(1560.72,653.75) scale(0.965,1)" font-size="25.5" fill="#262626" class="t">2</text>
<text transform="translate(1653.03,653.75) scale(0.965,1)" font-size="25.5" fill="#262626" class="t">4</text>
<text transform="translate(1745.13,653.75) scale(0.965,1)" font-size="25.5" fill="#262626" class="t">6</text>
<text transform="translate(1837.47,653.75) scale(0.965,1)" font-size="25.5" fill="#262626" class="t">8</text>
<text transform="translate(1625.79,675.85) scale(1.0695,1)" font-size="23.0" fill="#262626" class="t">x, mm</text>
<text transform="translate(1429.20,517.27) rotate(-90) scale(1.0496,1)" font-size="23.0" fill="#262626" class="t">p, Pa</text>
<text transform="translate(1488.68,388.80) scale(0.9482,1)" font-size="29" font-style="italic" fill="#000" class="t">Pressure</text>
<clipPath id="c20"><rect x="77.0" y="690.0" width="375.1" height="274.5"/></clipPath>
<g clip-path="url(#c20)" fill="none" stroke-linecap="round" stroke-linejoin="round">
<path d="M80.8 911.1C83.1 909.6 89.6 905.4 94.7 901.9C99.8 898.4 105.8 893.8 111.4 890.2C117.0 886.6 122.5 882.8 128.1 880.2C133.7 877.6 139.2 875.9 144.8 874.4C150.4 872.9 155.9 871.8 161.5 871.0C167.1 870.2 172.6 870.0 178.2 869.9C183.8 869.8 189.3 869.9 194.9 870.5C200.5 871.1 206.6 871.9 211.6 873.5C216.6 875.1 220.4 877.7 224.9 880.2C229.4 882.7 234.1 886.1 238.3 888.6C242.5 891.1 246.1 893.8 250.0 895.2C253.9 896.7 258.0 897.3 261.7 897.3C265.4 897.3 268.5 896.4 272.0 895.0C275.5 893.6 277.4 893.6 282.6 889.2C287.8 884.8 297.1 876.4 303.3 868.5C309.5 860.6 314.7 850.6 319.8 841.7C324.9 832.8 329.4 823.5 334.2 814.9C339.0 806.3 343.5 798.7 348.7 790.1C353.9 781.5 360.4 770.8 365.2 763.3C370.0 755.8 373.4 749.6 377.5 744.8C381.6 740.0 385.8 736.5 389.9 734.4C394.0 732.3 398.2 732.0 402.3 732.4C406.4 732.8 410.6 733.4 414.7 736.5C418.8 739.6 423.0 745.4 427.1 750.9C431.2 756.4 435.6 763.0 439.4 769.5C443.2 776.0 448.0 786.7 449.7 790.1" stroke="#000000" stroke-width="4.3"/>
<path d="M80.8 900.3C83.1 898.3 89.6 892.4 94.7 888.6C99.8 884.8 105.8 880.5 111.4 877.7C117.0 874.9 122.5 873.5 128.1 871.9C133.7 870.3 139.2 869.0 144.8 868.2C150.4 867.5 155.9 867.1 161.5 867.4C167.1 867.7 172.6 868.6 178.2 870.2C183.8 871.8 189.3 874.5 194.9 876.9C200.5 879.3 206.0 882.0 211.6 884.4C217.2 886.8 222.7 889.0 228.3 891.1C233.9 893.2 239.4 895.5 245.0 896.9C250.6 898.3 257.1 899.3 261.7 899.4C266.2 899.5 268.1 899.4 272.3 897.4C276.5 895.4 281.6 892.6 286.8 887.1C292.0 881.6 297.8 873.0 303.3 864.4C308.8 855.8 314.7 844.8 319.8 835.5C324.9 826.2 329.4 817.0 334.2 808.7C339.0 800.5 343.5 793.6 348.7 786.0C353.9 778.4 360.0 769.8 365.2 763.3C370.4 756.8 375.1 750.6 379.6 746.8C384.1 743.0 388.2 741.8 392.0 740.6C395.8 739.4 398.5 739.1 402.3 739.6C406.1 740.1 410.6 740.8 414.7 743.7C418.8 746.6 423.0 751.8 427.1 757.1C431.2 762.4 435.6 769.5 439.4 775.7C443.2 781.9 448.0 791.2 449.7 794.3" stroke="#6a0cbd" stroke-width="4.3"/>
<path d="M80.8 901.9C82.6 900.5 86.9 896.8 91.4 893.6C96.0 890.4 102.0 886.1 108.1 882.7C114.2 879.4 122.0 875.6 128.1 873.5C134.2 871.4 139.2 871.0 144.8 870.2C150.4 869.4 155.9 868.2 161.5 868.5C167.1 868.8 172.6 870.2 178.2 871.9C183.8 873.6 189.3 876.0 194.9 878.6C200.5 881.2 206.6 885.2 211.6 887.7C216.6 890.2 220.7 891.9 224.9 893.6C229.1 895.3 232.4 897.0 236.6 897.8C240.8 898.6 245.8 898.7 250.0 898.6C254.2 898.5 257.9 899.0 262.0 897.4C266.1 895.8 269.9 893.0 274.4 889.2C278.9 885.4 283.6 880.9 288.8 874.7C294.0 868.5 299.8 860.2 305.3 852.0C310.8 843.8 316.6 834.0 321.8 825.2C327.0 816.4 331.1 807.3 336.3 799.4C341.5 791.5 347.0 784.7 352.8 777.8C358.6 770.9 365.8 763.0 371.3 758.2C376.8 753.4 380.6 750.8 385.8 748.9C391.0 747.0 396.8 746.1 402.3 746.8C407.8 747.5 413.7 749.5 418.8 753.0C423.9 756.5 428.4 761.3 433.2 767.5C438.0 773.7 444.9 785.7 447.7 790.1C450.4 794.5 449.4 793.4 449.7 794.0" stroke="#f5237f" stroke-width="4.3" stroke-dasharray="10.5 17.5"/>
</g>
<rect x="80.0" y="693.0" width="369.1" height="268.5" fill="none" stroke="#000" stroke-width="2.3"/>
<path d="M80.0 918.7h4.5M449.1 918.7h-4.5M80.0 851.8h4.5M449.1 851.8h-4.5M80.0 784.8h4.5M449.1 784.8h-4.5M80.0 717.9h4.5M449.1 717.9h-4.5M80.0 961.5v-4.5M80.0 693.0v4.5M172.3 961.5v-4.5M172.3 693.0v4.5M264.6 961.5v-4.5M264.6 693.0v4.5M356.9 961.5v-4.5M356.9 693.0v4.5M449.1 961.5v-4.5M449.1 693.0v4.5" stroke="#000" stroke-width="2.3" fill="none"/>
<text transform="translate(31.69,928.47) scale(0.965,1)" font-size="25.5" fill="#262626" class="t">300</text>
<text transform="translate(31.69,861.53) scale(0.965,1)" font-size="25.5" fill="#262626" class="t">350</text>
<text transform="translate(31.69,794.60) scale(0.965,1)" font-size="25.5" fill="#262626" class="t">400</text>
<text transform="translate(31.69,727.67) scale(0.965,1)" font-size="25.5" fill="#262626" class="t">450</text>
<text transform="translate(73.14,992.60) scale(0.965,1)" font-size="25.5" fill="#262626" class="t">0</text>
<text transform="translate(165.46,992.60) scale(0.965,1)" font-size="25.5" fill="#262626" class="t">2</text>
<text transform="translate(257.81,992.60) scale(0.965,1)" font-size="25.5" fill="#262626" class="t">4</text>
<text transform="translate(349.94,992.60) scale(0.965,1)" font-size="25.5" fill="#262626" class="t">6</text>
<text transform="translate(442.32,992.60) scale(0.965,1)" font-size="25.5" fill="#262626" class="t">8</text>
<text transform="translate(230.57,1014.90) scale(1.0695,1)" font-size="23.0" fill="#262626" class="t">x, mm</text>
<text transform="translate(18.90,870.82) rotate(-90) scale(1.0848,1)" font-size="23.0" fill="#262626" class="t">u, mm/s</text>
<text transform="translate(89.98,732.90) scale(0.9828,1)" font-size="33" font-weight="bold" fill="#000">TBL</text>
<text transform="translate(88.72,767.70) scale(0.9557,1)" font-size="29" font-style="italic" fill="#000" class="t">u-velocity</text>
<clipPath id="c21"><rect x="542.3" y="690.0" width="374.9" height="274.5"/></clipPath>
<g clip-path="url(#c21)" fill="none" stroke-linecap="round" stroke-linejoin="round">
<path d="M545.0 903.6C548.3 900.8 558.9 891.6 565.0 886.9C571.1 882.2 576.1 878.4 581.7 875.2C587.3 872.0 592.8 869.2 598.4 867.7C604.0 866.2 610.1 866.4 615.1 866.0C620.1 865.6 624.3 866.3 628.5 865.5C632.7 864.7 636.0 863.5 640.2 861.0C644.4 858.5 649.0 855.1 653.5 850.2C658.0 845.3 662.2 838.5 666.9 831.8C671.6 825.1 676.6 815.8 681.9 810.1C687.2 804.4 693.0 801.2 698.6 797.6C704.2 794.0 710.9 791.0 715.3 788.4C719.7 785.8 721.0 786.1 725.0 781.9C729.0 777.7 734.4 770.2 739.1 763.1C743.8 756.0 748.6 747.4 753.3 739.5C758.0 731.6 762.3 721.2 767.4 715.9C772.5 710.6 778.4 707.3 783.9 707.7C789.4 708.1 795.3 712.6 800.4 718.3C805.5 724.0 809.9 732.5 814.6 741.9C819.3 751.3 824.0 763.1 828.7 774.9C833.4 786.7 838.2 799.6 842.9 812.6C847.6 825.6 852.3 839.7 857.0 852.7C861.7 865.7 866.5 879.8 871.2 890.4C875.9 901.0 881.4 911.2 885.3 916.3C889.2 921.4 891.2 921.0 894.7 921.0C898.2 921.0 903.5 918.8 906.5 916.3C909.5 913.8 911.9 907.7 913.0 906.0" stroke="#000000" stroke-width="4.3"/>
<path d="M545.0 903.6C547.0 902.2 552.0 898.5 556.7 895.2C561.4 891.9 567.8 886.7 573.4 883.6C579.0 880.5 584.5 878.6 590.1 876.9C595.7 875.2 601.2 874.6 606.8 873.5C612.4 872.4 617.9 872.1 623.5 870.2C629.1 868.3 635.2 865.2 640.2 861.9C645.2 858.6 649.0 854.9 653.5 850.2C658.0 845.5 662.2 839.6 666.9 833.5C671.6 827.4 676.6 819.5 681.9 813.4C687.2 807.3 693.0 801.4 698.6 796.7C704.2 792.0 710.9 788.2 715.3 785.0C719.7 781.8 721.0 781.2 725.0 777.2C729.0 773.2 734.4 766.6 739.1 760.7C743.8 754.8 748.6 747.8 753.3 741.9C758.0 736.0 762.3 729.3 767.4 725.4C772.5 721.5 778.4 718.3 783.9 718.3C789.4 718.3 795.3 720.7 800.4 725.4C805.5 730.1 809.9 737.6 814.6 746.6C819.3 755.6 824.0 768.2 828.7 779.6C833.4 791.0 838.2 803.1 842.9 814.9C847.6 826.7 852.3 838.5 857.0 850.3C861.7 862.1 866.5 875.5 871.2 885.7C875.9 895.9 881.0 906.3 885.3 911.6C889.6 916.9 893.6 917.3 897.1 917.5C900.6 917.7 903.9 914.9 906.5 912.8C909.1 910.7 911.9 906.3 913.0 905.0" stroke="#6a0cbd" stroke-width="4.3"/>
<path d="M545.0 903.6C547.0 902.6 552.0 899.9 556.7 897.8C561.4 895.7 567.8 892.9 573.4 891.1C579.0 889.3 584.5 888.9 590.1 886.9C595.7 884.9 601.2 882.0 606.8 879.4C612.4 876.8 617.9 874.2 623.5 871.0C629.1 867.8 635.2 864.2 640.2 860.2C645.2 856.2 648.5 852.4 653.5 846.8C658.5 841.2 664.6 833.5 670.2 826.8C675.8 820.1 681.3 812.4 686.9 806.8C692.5 801.2 698.3 797.3 703.6 793.4C708.9 789.5 715.1 786.1 718.7 783.4C722.3 780.7 721.6 780.6 725.0 777.2C728.4 773.8 734.0 768.2 739.1 763.1C744.2 758.0 750.1 751.7 755.6 746.6C761.1 741.5 767.4 735.5 772.1 732.4C776.8 729.2 779.6 727.3 783.9 727.7C788.2 728.1 793.4 730.5 798.1 734.8C802.8 739.1 807.5 745.4 812.2 753.6C816.9 761.9 821.7 773.7 826.4 784.3C831.1 794.9 835.8 805.5 840.5 817.3C845.2 829.1 850.0 842.4 854.7 855.0C859.4 867.6 864.1 882.9 868.8 892.7C873.5 902.5 878.7 909.9 883.0 914.0C887.3 918.1 890.4 917.9 894.7 917.5C899.0 917.1 905.9 913.5 908.9 911.6C911.9 909.7 912.3 906.9 913.0 906.0" stroke="#f5237f" stroke-width="4.3" stroke-dasharray="10.5 17.5"/>
</g>
<rect x="545.3" y="693.0" width="368.9" height="268.5" fill="none" stroke="#000" stroke-width="2.3"/>
<path d="M545.3 894.2h4.5M914.1 894.2h-4.5M545.3 793.9h4.5M914.1 793.9h-4.5M545.3 693.5h4.5M914.1 693.5h-4.5M545.3 961.5v-4.5M545.3 693.0v4.5M637.5 961.5v-4.5M637.5 693.0v4.5M729.7 961.5v-4.5M729.7 693.0v4.5M821.9 961.5v-4.5M821.9 693.0v4.5M914.1 961.5v-4.5M914.1 693.0v4.5" stroke="#000" stroke-width="2.3" fill="none"/>
<text transform="translate(524.17,903.97) scale(0.965,1)" font-size="25.5" fill="#262626" class="t">0</text>
<text transform="translate(510.51,803.62) scale(0.965,1)" font-size="25.5" fill="#262626" class="t">40</text>
<text transform="translate(510.51,703.27) scale(0.965,1)" font-size="25.5" fill="#262626" class="t">80</text>
<text transform="translate(538.44,992.60) scale(0.965,1)" font-size="25.5" fill="#262626" class="t">0</text>
<text transform="translate(630.68,992.60) scale(0.965,1)" font-size="25.5" fill="#262626" class="t">2</text>
<text transform="translate(722.96,992.60) scale(0.965,1)" font-size="25.5" fill="#262626" class="t">4</text>
<text transform="translate(815.02,992.60) scale(0.965,1)" font-size="25.5" fill="#262626" class="t">6</text>
<text transform="translate(907.32,992.60) scale(0.965,1)" font-size="25.5" fill="#262626" class="t">8</text>
<text transform="translate(695.72,1014.90) scale(1.0695,1)" font-size="23.0" fill="#262626" class="t">x, mm</text>
<text transform="translate(491.70,869.93) rotate(-90) scale(1.0905,1)" font-size="23.0" fill="#262626" class="t">v, mm/s</text>
<text transform="translate(556.80,728.60) scale(0.9436,1)" font-size="29" font-style="italic" fill="#000" class="t">v-velocity</text>
<clipPath id="c22"><rect x="1006.6" y="690.0" width="374.7" height="274.5"/></clipPath>
<g clip-path="url(#c22)" fill="none" stroke-linecap="round" stroke-linejoin="round">
<path d="M1010.5 756.8C1013.0 758.2 1019.6 762.2 1025.6 765.1C1031.6 768.0 1039.4 770.6 1046.3 774.4C1053.2 778.2 1060.0 783.7 1066.9 787.8C1073.8 791.9 1081.3 795.0 1087.5 799.1C1093.7 803.2 1098.8 807.2 1104.0 812.5C1109.2 817.8 1113.7 823.9 1118.5 831.1C1123.3 838.3 1128.4 848.7 1132.9 855.9C1137.4 863.1 1141.2 870.3 1145.3 874.4C1149.4 878.5 1153.9 880.2 1157.7 880.6C1161.5 881.0 1164.2 881.0 1168.0 876.5C1171.8 872.0 1176.7 861.5 1180.4 853.8C1184.1 846.0 1186.7 838.6 1190.0 830.0C1193.3 821.4 1196.2 810.1 1200.3 802.2C1204.4 794.3 1210.3 784.3 1214.8 782.6C1219.3 780.9 1223.0 785.5 1227.1 791.9C1231.2 798.3 1235.4 809.4 1239.5 820.8C1243.6 832.1 1247.8 847.6 1251.9 860.0C1256.0 872.4 1260.2 884.4 1264.3 895.0C1268.4 905.6 1272.6 917.5 1276.7 923.9C1280.8 930.3 1284.9 933.5 1289.0 933.2C1293.1 932.9 1297.3 928.6 1301.4 921.9C1305.5 915.2 1309.7 905.0 1313.8 893.0C1317.9 881.0 1322.1 864.5 1326.2 849.7C1330.3 834.9 1334.7 816.0 1338.5 804.3C1342.3 792.6 1345.8 784.8 1348.9 779.5C1352.0 774.2 1354.0 772.3 1357.1 772.3C1360.2 772.3 1364.0 773.8 1367.4 779.5C1370.8 785.2 1376.0 801.8 1377.7 806.3" stroke="#000000" stroke-width="4.3"/>
<path d="M1010.5 779.5C1012.3 779.7 1017.3 780.6 1021.5 780.5C1025.7 780.4 1030.7 779.2 1035.9 778.9C1041.1 778.6 1047.3 777.9 1052.5 778.5C1057.7 779.1 1061.8 780.4 1066.9 782.6C1072.1 784.8 1078.2 788.3 1083.4 791.9C1088.6 795.5 1092.7 799.5 1097.8 804.3C1102.9 809.1 1108.8 815.6 1114.3 820.8C1119.8 825.9 1125.7 831.1 1130.9 835.2C1136.1 839.3 1141.2 843.4 1145.3 845.5C1149.4 847.6 1151.5 848.3 1155.6 847.6C1159.7 846.9 1165.3 844.1 1170.1 841.4C1174.9 838.6 1180.3 834.4 1184.5 831.1C1188.7 827.8 1190.7 824.1 1195.0 821.5C1199.3 818.9 1205.6 815.4 1210.6 815.6C1215.6 815.8 1220.3 817.8 1225.1 822.8C1229.9 827.8 1235.0 837.6 1239.5 845.5C1244.0 853.4 1247.4 861.3 1251.9 870.3C1256.4 879.2 1261.8 891.6 1266.3 899.2C1270.8 906.8 1274.9 912.3 1278.7 915.7C1282.5 919.1 1285.2 920.5 1289.0 919.8C1292.8 919.1 1297.3 916.8 1301.4 911.6C1305.5 906.5 1309.7 899.9 1313.8 888.9C1317.9 877.9 1321.7 860.0 1326.2 845.5C1330.7 831.0 1336.5 812.5 1340.6 802.2C1344.7 791.9 1347.5 787.6 1350.9 783.6C1354.3 779.6 1357.8 778.1 1361.2 778.5C1364.7 778.9 1368.7 782.8 1371.6 785.7C1374.5 788.6 1377.6 794.3 1378.8 796.0" stroke="#6a0cbd" stroke-width="4.3"/>
<path d="M1010.5 765.1C1013.0 765.8 1019.6 768.0 1025.6 769.2C1031.6 770.4 1039.4 770.9 1046.3 772.3C1053.2 773.7 1060.0 775.1 1066.9 777.5C1073.8 779.9 1080.6 783.6 1087.5 786.7C1094.4 789.8 1101.3 792.9 1108.2 796.0C1115.1 799.1 1121.9 802.5 1128.8 805.3C1135.7 808.0 1143.2 811.3 1149.4 812.5C1155.6 813.7 1160.1 813.2 1165.9 812.5C1171.8 811.8 1178.8 809.2 1184.5 808.4C1190.2 807.5 1195.6 807.2 1200.3 807.4C1205.0 807.6 1207.5 806.5 1212.7 809.4C1217.9 812.3 1225.5 818.5 1231.3 824.9C1237.1 831.3 1242.6 839.7 1247.8 847.6C1253.0 855.5 1257.4 864.5 1262.2 872.4C1267.0 880.3 1271.5 889.5 1276.7 895.0C1281.9 900.5 1288.7 904.7 1293.2 905.4C1297.7 906.1 1299.7 903.7 1303.5 899.2C1307.3 894.7 1312.1 886.1 1315.9 878.5C1319.7 870.9 1322.4 863.1 1326.2 853.8C1330.0 844.5 1334.4 832.4 1338.5 822.8C1342.6 813.2 1346.8 802.2 1350.9 796.0C1355.0 789.8 1359.8 787.1 1363.3 785.7C1366.8 784.3 1369.0 786.4 1371.6 787.8C1374.2 789.2 1377.6 793.0 1378.8 794.0" stroke="#f5237f" stroke-width="4.3" stroke-dasharray="10.5 17.5"/>
</g>
<rect x="1009.6" y="693.0" width="368.7" height="268.5" fill="none" stroke="#000" stroke-width="2.3"/>
<path d="M1009.6 961.2h4.5M1378.3 961.2h-4.5M1009.6 860.5h4.5M1378.3 860.5h-4.5M1009.6 759.8h4.5M1378.3 759.8h-4.5M1009.6 961.5v-4.5M1009.6 693.0v4.5M1101.8 961.5v-4.5M1101.8 693.0v4.5M1194.0 961.5v-4.5M1194.0 693.0v4.5M1286.1 961.5v-4.5M1286.1 693.0v4.5M1378.3 961.5v-4.5M1378.3 693.0v4.5" stroke="#000" stroke-width="2.3" fill="none"/>
<text transform="translate(964.81,970.97) scale(0.965,1)" font-size="25.5" fill="#262626" class="t">−20</text>
<text transform="translate(964.81,870.27) scale(0.965,1)" font-size="25.5" fill="#262626" class="t">−10</text>
<text transform="translate(992.87,769.57) scale(0.965,1)" font-size="25.5" fill="#262626" class="t">0</text>
<text transform="translate(1002.74,992.60) scale(0.965,1)" font-size="25.5" fill="#262626" class="t">0</text>
<text transform="translate(1094.95,992.60) scale(0.965,1)" font-size="25.5" fill="#262626" class="t">2</text>
<text transform="translate(1187.18,992.60) scale(0.965,1)" font-size="25.5" fill="#262626" class="t">4</text>
<text transform="translate(1279.20,992.60) scale(0.965,1)" font-size="25.5" fill="#262626" class="t">6</text>
<text transform="translate(1371.47,992.60) scale(0.965,1)" font-size="25.5" fill="#262626" class="t">8</text>
<text transform="translate(1159.94,1014.90) scale(1.0695,1)" font-size="23.0" fill="#262626" class="t">x, mm</text>
<text transform="translate(962.70,873.00) rotate(-90) scale(1.0928,1)" font-size="23.0" fill="#262626" class="t">w, mm/s</text>
<text transform="translate(1022.70,727.80) scale(0.9661,1)" font-size="29" font-style="italic" fill="#000" class="t">w-velocity</text>
<clipPath id="c23"><rect x="1472.5" y="690.0" width="374.8" height="274.2"/></clipPath>
<g clip-path="url(#c23)" fill="none" stroke-linecap="round" stroke-linejoin="round">
<path d="M1474.4 835.5C1476.1 835.4 1480.5 835.0 1484.7 834.8C1488.9 834.5 1494.6 833.6 1499.5 834.0C1504.4 834.4 1509.3 835.5 1514.2 837.0C1519.1 838.5 1524.1 840.4 1529.0 842.9C1533.9 845.4 1538.8 849.5 1543.7 851.7C1548.6 853.9 1554.0 855.9 1558.4 856.1C1562.8 856.4 1566.5 855.2 1570.2 853.2C1573.9 851.2 1577.1 848.2 1580.6 844.3C1584.0 840.4 1587.7 834.8 1590.9 829.6C1594.1 824.5 1596.4 819.5 1599.7 813.4C1603.0 807.3 1607.2 798.9 1610.8 793.2C1614.4 787.5 1617.6 782.6 1621.6 779.2C1625.6 775.8 1630.6 773.2 1634.6 772.7C1638.6 772.2 1641.8 774.0 1645.4 776.5C1649.0 779.0 1652.6 783.6 1656.2 787.8C1659.8 792.0 1663.4 796.9 1667.0 801.8C1670.6 806.7 1674.2 812.1 1677.8 817.0C1681.4 821.9 1684.8 827.4 1688.6 831.0C1692.4 834.6 1696.9 837.9 1700.5 838.6C1704.1 839.3 1707.0 838.4 1710.2 835.3C1713.5 832.2 1716.9 824.4 1720.0 820.2C1723.1 816.1 1725.3 814.7 1728.7 810.4C1732.1 806.1 1736.8 798.4 1740.5 794.2C1744.2 790.0 1747.6 787.5 1750.8 785.4C1754.0 783.3 1756.8 781.8 1759.7 781.7C1762.7 781.6 1765.1 782.5 1768.5 784.6C1771.9 786.7 1776.4 789.7 1780.3 794.2C1784.2 798.8 1788.4 806.0 1792.1 811.9C1795.8 817.8 1799.2 823.7 1802.4 829.6C1805.6 835.5 1808.3 841.4 1811.3 847.3C1814.2 853.2 1817.2 859.9 1820.1 865.0C1823.0 870.1 1826.0 874.9 1828.9 878.2C1831.9 881.5 1835.3 883.8 1837.8 884.9C1840.3 886.0 1842.7 884.9 1843.7 884.9" stroke="#000000" stroke-width="4.3"/>
<path d="M1474.4 827.4C1476.1 828.5 1480.5 831.8 1484.7 834.0C1488.9 836.2 1494.6 839.0 1499.5 840.7C1504.4 842.4 1509.3 843.4 1514.2 844.3C1519.1 845.1 1524.1 845.7 1529.0 845.8C1533.9 845.9 1538.8 845.7 1543.7 845.1C1548.6 844.5 1553.5 843.3 1558.4 842.1C1563.3 840.9 1568.3 839.3 1573.2 837.7C1578.1 836.1 1583.4 833.9 1587.9 832.5C1592.4 831.1 1594.4 831.1 1600.0 829.5C1605.6 827.9 1616.2 824.1 1621.6 822.9C1627.0 821.7 1627.9 821.6 1632.4 822.4C1636.9 823.2 1643.2 825.5 1648.6 827.8C1654.0 830.1 1658.5 833.5 1664.8 836.4C1671.1 839.3 1679.2 843.2 1686.4 845.1C1693.6 847.0 1702.4 847.6 1708.0 847.8C1713.6 848.0 1716.5 846.8 1720.0 846.1C1723.5 845.4 1724.8 844.4 1728.7 843.6C1732.6 842.8 1738.5 841.5 1743.4 841.1C1748.3 840.7 1753.3 840.7 1758.2 841.4C1763.1 842.1 1768.0 843.1 1772.9 845.1C1777.8 847.1 1782.8 850.2 1787.7 853.2C1792.6 856.2 1797.5 859.8 1802.4 862.8C1807.3 865.8 1812.2 868.3 1817.1 870.9C1822.0 873.5 1827.5 876.4 1831.9 878.2C1836.3 880.0 1841.7 881.3 1843.7 881.9" stroke="#6a0cbd" stroke-width="4.3"/>
<path d="M1474.4 814.9C1476.4 815.9 1481.8 819.0 1486.2 820.8C1490.6 822.6 1496.3 824.8 1501.0 825.9C1505.7 827.0 1509.5 827.1 1514.2 827.4C1518.9 827.6 1524.1 827.6 1529.0 827.4C1533.9 827.1 1538.8 826.5 1543.7 825.9C1548.6 825.3 1553.5 824.4 1558.4 823.7C1563.3 823.0 1568.3 822.4 1573.2 821.5C1578.1 820.6 1583.5 819.1 1587.9 818.5C1592.3 817.9 1595.3 817.8 1599.7 817.8C1604.1 817.8 1609.8 817.8 1614.5 818.5C1619.2 819.2 1623.3 820.7 1627.7 822.2C1632.1 823.7 1636.6 825.4 1641.0 827.4C1645.4 829.4 1650.0 831.7 1654.3 834.0C1658.6 836.3 1662.8 839.2 1666.8 841.4C1670.8 843.6 1674.2 845.6 1678.6 847.3C1683.0 849.0 1688.6 850.6 1693.3 851.7C1698.0 852.8 1701.9 853.4 1706.6 853.9C1711.3 854.4 1716.4 854.9 1721.3 855.0C1726.2 855.1 1731.2 854.6 1736.1 854.7C1741.0 854.8 1746.4 854.9 1750.8 855.4C1755.2 855.9 1758.2 856.1 1762.6 857.6C1767.0 859.1 1772.9 862.1 1777.3 864.2C1781.7 866.3 1784.9 867.9 1789.1 870.1C1793.3 872.3 1798.2 875.3 1802.4 877.5C1806.6 879.7 1809.8 881.5 1814.2 883.4C1818.6 885.2 1824.2 887.2 1828.9 888.6C1833.6 890.0 1840.0 891.0 1842.2 891.5" stroke="#f5237f" stroke-width="4.3" stroke-dasharray="10.5 17.5"/>
</g>
<rect x="1475.5" y="693.0" width="368.8" height="268.2" fill="none" stroke="#000" stroke-width="2.3"/>
<path d="M1475.5 901.7h4.5M1844.3 901.7h-4.5M1475.5 826.8h4.5M1844.3 826.8h-4.5M1475.5 751.8h4.5M1844.3 751.8h-4.5M1475.5 961.2v-4.5M1475.5 693.0v4.5M1567.7 961.2v-4.5M1567.7 693.0v4.5M1659.9 961.2v-4.5M1659.9 693.0v4.5M1752.1 961.2v-4.5M1752.1 693.0v4.5M1844.3 961.2v-4.5M1844.3 693.0v4.5" stroke="#000" stroke-width="2.3" fill="none"/>
<text transform="translate(1439.48,911.59) scale(0.965,1)" font-size="25.5" fill="#262626" class="t">−2</text>
<text transform="translate(1453.57,836.52) scale(0.965,1)" font-size="25.5" fill="#262626" class="t">0</text>
<text transform="translate(1453.87,761.69) scale(0.965,1)" font-size="25.5" fill="#262626" class="t">2</text>
<text transform="translate(1468.64,992.35) scale(0.965,1)" font-size="25.5" fill="#262626" class="t">0</text>
<text transform="translate(1560.88,992.35) scale(0.965,1)" font-size="25.5" fill="#262626" class="t">2</text>
<text transform="translate(1653.16,992.35) scale(0.965,1)" font-size="25.5" fill="#262626" class="t">4</text>
<text transform="translate(1745.22,992.35) scale(0.965,1)" font-size="25.5" fill="#262626" class="t">6</text>
<text transform="translate(1837.52,992.35) scale(0.965,1)" font-size="25.5" fill="#262626" class="t">8</text>
<text transform="translate(1625.92,1014.65) scale(1.0695,1)" font-size="23.0" fill="#262626" class="t">x, mm</text>
<text transform="translate(1429.20,856.67) rotate(-90) scale(1.0515,1)" font-size="23.0" fill="#262626" class="t">p, Pa</text>
<text transform="translate(1488.68,727.80) scale(0.9377,1)" font-size="29" font-style="italic" fill="#000" class="t">Pressure</text>

</svg></body></html>
